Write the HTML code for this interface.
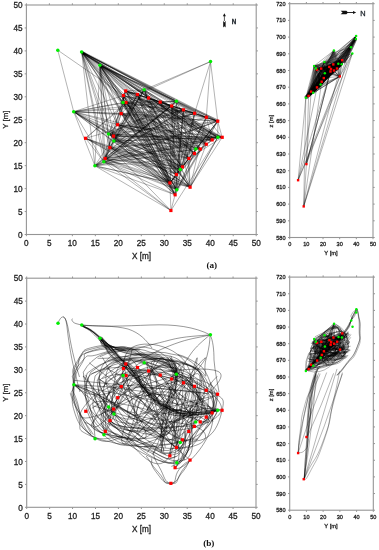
<!DOCTYPE html><html><head><meta charset="utf-8"><title>Trajectories</title><style>html,body{margin:0;padding:0;background:#fff;}svg{display:block;}text{stroke:#222;stroke-width:.28px;}</style></head><body><svg width="379" height="550" viewBox="0 0 379 550" font-family='"Liberation Sans", Arial, sans-serif' font-size="8.2" fill="#222"><rect width="379" height="550" fill="#fff"/><path d="M144.2 89.8L113.8 141.0M144.2 89.8L94.9 165.8M144.2 89.8L217.9 137.3M144.2 89.8L180.3 169.5M144.2 89.8L176.8 189.8M144.2 89.8L125.7 90.9M144.2 89.8L123.4 95.5M144.2 89.8L121.2 113.6M144.2 89.8L113.5 136.1M144.2 89.8L109.9 147.6M144.2 89.8L105.2 158.5M144.2 89.8L222.2 137.3M144.2 89.8L206.3 144.2M144.2 89.8L188.9 158.5M144.2 89.8L176.4 174.5M144.2 89.8L169.9 182.9M144.2 89.8L190.1 187.2M176.4 101.3L123.0 102.5M176.4 101.3L108.5 134.0M176.4 101.3L103.8 161.7M176.4 101.3L94.9 165.8M176.4 101.3L180.3 169.5M176.4 101.3L171.7 106.0M176.4 101.3L217.7 121.2M176.4 101.3L126.0 102.5M176.4 101.3L105.2 158.5M176.4 101.3L200.3 149.0M176.4 101.3L182.5 166.9M176.4 101.3L169.9 182.9M123.0 102.5L195.8 149.0M123.0 102.5L180.3 169.5M123.0 102.5L176.8 189.8M123.0 102.5L125.7 90.9M123.0 102.5L123.4 95.5M123.0 102.5L171.7 106.0M123.0 102.5L194.6 113.3M123.0 102.5L206.3 117.3M123.0 102.5L206.3 144.2M123.0 102.5L200.3 149.0M123.0 102.5L194.4 153.5M123.0 102.5L188.9 158.5M123.0 102.5L182.5 166.9M123.0 102.5L169.9 182.9M123.0 102.5L190.1 187.2M123.0 102.5L175.1 194.8M108.5 134.0L125.7 90.9M108.5 134.0L171.7 106.0M108.5 134.0L183.5 109.8M108.5 134.0L194.6 113.3M108.5 134.0L217.7 121.2M108.5 134.0L126.0 102.5M108.5 134.0L109.9 147.6M108.5 134.0L105.2 158.5M108.5 134.0L222.2 137.3M108.5 134.0L212.2 139.9M108.5 134.0L206.3 144.2M108.5 134.0L200.3 149.0M108.5 134.0L182.5 166.9M108.5 134.0L176.4 174.5M108.5 134.0L169.9 182.9M108.5 134.0L190.1 187.2M108.5 134.0L175.1 194.8M113.8 141.0L217.9 137.3M113.8 141.0L195.8 149.0M113.8 141.0L180.3 169.5M113.8 141.0L176.8 189.8M113.8 141.0L148.6 98.0M113.8 141.0L160.2 102.1M113.8 141.0L194.6 113.3M113.8 141.0L217.7 121.2M113.8 141.0L222.2 137.3M113.8 141.0L194.4 153.5M113.8 141.0L188.9 158.5M103.8 161.7L217.9 137.3M103.8 161.7L180.3 169.5M103.8 161.7L176.8 189.8M103.8 161.7L125.7 90.9M103.8 161.7L137.4 94.5M103.8 161.7L171.7 106.0M103.8 161.7L217.7 121.2M103.8 161.7L212.2 139.9M103.8 161.7L194.4 153.5M103.8 161.7L190.1 187.2M103.8 161.7L175.1 194.8M94.9 165.8L195.8 149.0M94.9 165.8L160.2 102.1M94.9 165.8L171.7 106.0M94.9 165.8L183.5 109.8M94.9 165.8L217.7 121.2M94.9 165.8L222.2 137.3M94.9 165.8L188.9 158.5M94.9 165.8L169.9 182.9M94.9 165.8L190.1 187.2M94.9 165.8L175.1 194.8M217.9 137.3L125.7 90.9M217.9 137.3L123.4 95.5M217.9 137.3L148.6 98.0M217.9 137.3L160.2 102.1M217.9 137.3L117.6 124.7M217.9 137.3L113.5 136.1M217.9 137.3L109.9 147.6M217.9 137.3L105.2 158.5M217.9 137.3L190.1 187.2M195.8 149.0L171.7 106.0M195.8 149.0L126.0 102.5M195.8 149.0L117.6 124.7M195.8 149.0L169.9 182.9M195.8 149.0L175.1 194.8M180.3 169.5L137.4 94.5M180.3 169.5L171.7 106.0M180.3 169.5L206.3 117.3M180.3 169.5L126.0 102.5M180.3 169.5L121.2 113.6M180.3 169.5L109.9 147.6M180.3 169.5L105.2 158.5M180.3 169.5L188.9 158.5M180.3 169.5L169.9 182.9M176.8 189.8L123.4 95.5M176.8 189.8L171.7 106.0M176.8 189.8L183.5 109.8M176.8 189.8L194.6 113.3M176.8 189.8L217.7 121.2M176.8 189.8L126.0 102.5M176.8 189.8L121.2 113.6M176.8 189.8L109.9 147.6M176.8 189.8L105.2 158.5M176.8 189.8L200.3 149.0M176.8 189.8L194.4 153.5M176.8 189.8L176.4 174.5M125.7 90.9L123.4 95.5M125.7 90.9L148.6 98.0M125.7 90.9L171.7 106.0M125.7 90.9L183.5 109.8M125.7 90.9L217.7 121.2M125.7 90.9L113.5 136.1M125.7 90.9L105.2 158.5M125.7 90.9L222.2 137.3M125.7 90.9L212.2 139.9M125.7 90.9L206.3 144.2M125.7 90.9L194.4 153.5M125.7 90.9L182.5 166.9M125.7 90.9L176.4 174.5M125.7 90.9L169.9 182.9M125.7 90.9L190.1 187.2M125.7 90.9L175.1 194.8M123.4 95.5L171.7 106.0M123.4 95.5L194.6 113.3M123.4 95.5L217.7 121.2M123.4 95.5L222.2 137.3M123.4 95.5L194.4 153.5M123.4 95.5L188.9 158.5M123.4 95.5L182.5 166.9M123.4 95.5L176.4 174.5M123.4 95.5L169.9 182.9M123.4 95.5L175.1 194.8M137.4 94.5L160.2 102.1M137.4 94.5L113.5 136.1M137.4 94.5L109.9 147.6M137.4 94.5L206.3 144.2M137.4 94.5L194.4 153.5M137.4 94.5L188.9 158.5M137.4 94.5L182.5 166.9M137.4 94.5L176.4 174.5M137.4 94.5L169.9 182.9M137.4 94.5L175.1 194.8M148.6 98.0L171.7 106.0M148.6 98.0L194.6 113.3M148.6 98.0L217.7 121.2M148.6 98.0L126.0 102.5M148.6 98.0L200.3 149.0M148.6 98.0L194.4 153.5M148.6 98.0L182.5 166.9M148.6 98.0L190.1 187.2M160.2 102.1L200.3 149.0M160.2 102.1L194.4 153.5M160.2 102.1L188.9 158.5M160.2 102.1L182.5 166.9M160.2 102.1L176.4 174.5M171.7 106.0L217.7 121.2M171.7 106.0L105.2 158.5M171.7 106.0L212.2 139.9M171.7 106.0L206.3 144.2M171.7 106.0L200.3 149.0M171.7 106.0L188.9 158.5M171.7 106.0L169.9 182.9M171.7 106.0L190.1 187.2M171.7 106.0L175.1 194.8M183.5 109.8L121.2 113.6M183.5 109.8L117.6 124.7M183.5 109.8L113.5 136.1M183.5 109.8L105.2 158.5M183.5 109.8L212.2 139.9M183.5 109.8L206.3 144.2M183.5 109.8L176.4 174.5M183.5 109.8L190.1 187.2M183.5 109.8L175.1 194.8M194.6 113.3L206.3 117.3M194.6 113.3L126.0 102.5M194.6 113.3L113.5 136.1M194.6 113.3L109.9 147.6M194.6 113.3L188.9 158.5M194.6 113.3L176.4 174.5M194.6 113.3L175.1 194.8M206.3 117.3L113.5 136.1M206.3 117.3L105.2 158.5M206.3 117.3L222.2 137.3M206.3 117.3L212.2 139.9M206.3 117.3L182.5 166.9M206.3 117.3L176.4 174.5M206.3 117.3L190.1 187.2M217.7 121.2L121.2 113.6M217.7 121.2L105.2 158.5M217.7 121.2L188.9 158.5M217.7 121.2L182.5 166.9M217.7 121.2L176.4 174.5M217.7 121.2L169.9 182.9M217.7 121.2L175.1 194.8M126.0 102.5L222.2 137.3M126.0 102.5L190.1 187.2M121.2 113.6L222.2 137.3M121.2 113.6L206.3 144.2M121.2 113.6L200.3 149.0M121.2 113.6L194.4 153.5M121.2 113.6L188.9 158.5M121.2 113.6L169.9 182.9M121.2 113.6L175.1 194.8M117.6 124.7L222.2 137.3M117.6 124.7L212.2 139.9M117.6 124.7L200.3 149.0M117.6 124.7L194.4 153.5M117.6 124.7L176.4 174.5M117.6 124.7L169.9 182.9M117.6 124.7L190.1 187.2M117.6 124.7L175.1 194.8M113.5 136.1L105.2 158.5M113.5 136.1L222.2 137.3M113.5 136.1L212.2 139.9M113.5 136.1L188.9 158.5M113.5 136.1L182.5 166.9M113.5 136.1L169.9 182.9M113.5 136.1L190.1 187.2M113.5 136.1L175.1 194.8M109.9 147.6L212.2 139.9M109.9 147.6L188.9 158.5M109.9 147.6L182.5 166.9M109.9 147.6L176.4 174.5M109.9 147.6L169.9 182.9M109.9 147.6L190.1 187.2M105.2 158.5L206.3 144.2M105.2 158.5L200.3 149.0M105.2 158.5L182.5 166.9M105.2 158.5L169.9 182.9M105.2 158.5L190.1 187.2M222.2 137.3L188.9 158.5M212.2 139.9L182.5 166.9M206.3 144.2L169.9 182.9M206.3 144.2L190.1 187.2M200.3 149.0L169.9 182.9M188.9 158.5L190.1 187.2M176.4 174.5L175.1 194.8M125.7 90.9L137.4 94.5M125.7 90.9L137.4 94.5M137.4 94.5L148.6 98.0M137.4 94.5L148.6 98.0M148.6 98.0L160.2 102.1M148.6 98.0L160.2 102.1M160.2 102.1L171.7 106.0M160.2 102.1L171.7 106.0M171.7 106.0L183.5 109.8M171.7 106.0L183.5 109.8M183.5 109.8L194.6 113.3M183.5 109.8L194.6 113.3M194.6 113.3L206.3 117.3M194.6 113.3L206.3 117.3M206.3 117.3L217.7 121.2M206.3 117.3L217.7 121.2M123.4 95.5L123.0 102.5M123.4 95.5L123.0 102.5M123.0 102.5L121.2 113.6M123.0 102.5L121.2 113.6M121.2 113.6L117.6 124.7M121.2 113.6L117.6 124.7M117.6 124.7L108.5 134.0M117.6 124.7L108.5 134.0M108.5 134.0L113.5 136.1M108.5 134.0L113.5 136.1M113.5 136.1L113.8 141.0M113.5 136.1L113.8 141.0M113.8 141.0L109.9 147.6M113.8 141.0L109.9 147.6M109.9 147.6L105.2 158.5M109.9 147.6L105.2 158.5M105.2 158.5L103.8 161.7M105.2 158.5L103.8 161.7M103.8 161.7L94.9 165.8M103.8 161.7L94.9 165.8M222.2 137.3L217.9 137.3M222.2 137.3L217.9 137.3M217.9 137.3L212.2 139.9M217.9 137.3L212.2 139.9M212.2 139.9L206.3 144.2M212.2 139.9L206.3 144.2M206.3 144.2L200.3 149.0M206.3 144.2L200.3 149.0M200.3 149.0L195.8 149.0M200.3 149.0L195.8 149.0M195.8 149.0L194.4 153.5M195.8 149.0L194.4 153.5M194.4 153.5L188.9 158.5M194.4 153.5L188.9 158.5M188.9 158.5L182.5 166.9M188.9 158.5L182.5 166.9M182.5 166.9L180.3 169.5M182.5 166.9L180.3 169.5M180.3 169.5L176.4 174.5M180.3 169.5L176.4 174.5M176.4 174.5L169.9 182.9M176.4 174.5L169.9 182.9M169.9 182.9L176.8 189.8M169.9 182.9L176.8 189.8M82.2 52.4L194.6 112.1M82.1 51.3L217.6 120.3M82.5 51.9L193.3 112.2M80.7 52.1L213.9 138.1M80.9 51.0L220.4 136.9M100.4 66.2L219.4 120.5M82.5 52.4L210.3 140.6M81.3 51.6L175.1 99.3M81.3 52.8L193.1 115.2M81.3 52.5L219.2 137.0M81.5 51.6L213.9 138.7M82.4 51.0L211.8 141.1M81.4 51.8L195.8 111.5M80.7 52.1L211.7 139.2M81.6 51.9L176.4 101.3M81.6 51.9L123.0 102.5M81.6 51.9L108.5 134.0M81.6 51.9L103.8 161.7M81.6 51.9L94.9 165.8M81.6 51.9L217.9 137.3M81.6 51.9L176.8 189.8M81.6 51.9L123.4 95.5M81.6 51.9L137.4 94.5M81.6 51.9L148.6 98.0M81.6 51.9L206.3 117.3M81.6 51.9L217.7 121.2M81.6 51.9L126.0 102.5M81.6 51.9L117.6 124.7M81.6 51.9L113.5 136.1M81.6 51.9L109.9 147.6M81.6 51.9L105.2 158.5M81.6 51.9L212.2 139.9M81.6 51.9L200.3 149.0M81.6 51.9L194.4 153.5M81.6 51.9L188.9 158.5M81.6 51.9L182.5 166.9M81.6 51.9L176.4 174.5M81.6 51.9L169.9 182.9M81.6 51.9L190.1 187.2M81.6 51.9L175.1 194.8M99.9 65.2L144.2 89.8M99.9 65.2L176.4 101.3M99.9 65.2L123.0 102.5M99.9 65.2L108.5 134.0M99.9 65.2L103.8 161.7M99.9 65.2L94.9 165.8M99.9 65.2L180.3 169.5M99.9 65.2L176.8 189.8M99.9 65.2L125.7 90.9M99.9 65.2L137.4 94.5M99.9 65.2L148.6 98.0M99.9 65.2L194.6 113.3M99.9 65.2L206.3 117.3M99.9 65.2L217.7 121.2M99.9 65.2L126.0 102.5M99.9 65.2L121.2 113.6M99.9 65.2L117.6 124.7M99.9 65.2L113.5 136.1M99.9 65.2L109.9 147.6M99.9 65.2L105.2 158.5M99.9 65.2L212.2 139.9M99.9 65.2L206.3 144.2M99.9 65.2L200.3 149.0M99.9 65.2L194.4 153.5M99.9 65.2L188.9 158.5M99.9 65.2L176.4 174.5M99.9 65.2L169.9 182.9M99.9 65.2L190.1 187.2M99.9 65.2L175.1 194.8M73.7 111.7L176.4 101.3M73.7 111.7L123.0 102.5M73.7 111.7L108.5 134.0M73.7 111.7L103.8 161.7M73.7 111.7L94.9 165.8M73.7 111.7L180.3 169.5M73.7 111.7L176.8 189.8M73.7 111.7L123.4 95.5M73.7 111.7L171.7 106.0M73.7 111.7L206.3 117.3M73.7 111.7L217.7 121.2M73.7 111.7L126.0 102.5M73.7 111.7L121.2 113.6M73.7 111.7L113.5 136.1M73.7 111.7L206.3 144.2M73.7 111.7L200.3 149.0M73.7 111.7L188.9 158.5M73.7 111.7L182.5 166.9M73.7 111.7L176.4 174.5M73.7 111.7L169.9 182.9M73.7 111.7L190.1 187.2M217.7 121.2L217.9 137.3M217.7 121.2L222.2 137.3M190.1 187.2L217.9 137.3M190.1 187.2L222.2 137.3M57.8 50.2L73.7 111.7M57.8 50.2L123.4 95.5M210.5 61.6L144.2 89.8M210.5 61.6L137.4 94.5M210.5 61.6L194.6 113.3M210.5 61.6L206.3 117.3M210.5 61.6L217.7 121.2M85.6 138.3L169.9 182.9M85.6 138.3L180.3 169.5M85.6 138.3L176.4 174.5M85.6 138.3L103.8 161.7M85.6 138.3L176.8 189.8M85.6 138.3L109.9 147.6M85.6 138.3L183.5 109.8M85.6 138.3L137.4 94.5M85.6 138.3L190.1 187.2M85.6 138.3L126.0 102.5M170.9 210.5L94.9 165.8M170.9 210.5L103.8 161.7M170.9 210.5L105.2 158.5M170.9 210.5L109.9 147.6M170.9 210.5L175.1 194.8M170.9 210.5L169.9 182.9M170.9 210.5L217.9 137.3" stroke="#000" stroke-opacity="0.6" stroke-width="0.5" fill="none"/><path d="M177.8 354.5L182.5 355.9L187.1 357.9L191.8 360.4L196.7 363.2L201.5 366.6L205.2 371.2L207.9 376.6L210.1 382.3L211.7 388.3L212.8 394.4L213.2 400.6L213.0 406.8L211.3 412.8L207.8 418.2L203.8 422.8L199.6 426.8L196.3 430.7L193.5 434.5L190.8 438.3L190.0 443.7L188.6 449.1L186.5 454.2L183.9 459.1L180.2 462.6L175.8 464.7L171.4 466.4M176.5 400.7L173.1 398.2L169.2 396.1L164.7 394.5L159.3 394.3L154.4 394.8L150.2 395.3L146.1 395.3L141.0 395.2L135.6 396.4L131.7 399.1L129.6 402.4L128.4 405.6L127.7 408.8L127.6 411.8L128.1 414.7L129.5 417.2L131.5 419.1L133.7 420.6L135.6 422.3L137.7 423.7L140.0 424.8L141.8 426.9L143.9 429.0L146.3 430.8L148.9 432.5L151.9 434.5M204.5 381.1L201.1 373.8L195.6 368.1L188.7 364.4L181.8 361.6L174.8 360.1L167.9 359.5L161.6 358.8L155.3 359.0L149.1 359.9L142.8 360.1L136.4 361.2L129.9 363.5L122.5 365.2L114.9 368.4L107.7 373.4L100.3 379.6L98.6 389.2L99.8 398.7L102.6 407.5L106.4 415.1L111.1 421.5L117.5 426.0L124.5 428.5L130.0 430.9L135.4 432.2L139.8 435.0M117.9 363.7L113.9 364.8L110.0 366.7L106.4 369.3L102.8 372.5L99.4 376.2L97.2 380.8L97.7 386.7L98.9 392.4L101.2 397.9L104.2 403.0L107.5 407.5L111.0 411.3L114.9 414.4L118.8 416.8L122.9 418.4L127.3 419.1L131.6 418.9L135.5 418.1L138.6 417.2L141.4 415.8L143.9 414.0L146.1 411.7L148.0 408.9L149.5 405.4L151.3 400.1L152.0 395.7M188.7 443.6L191.8 436.5L197.2 431.1L203.4 425.3L209.8 418.0L214.0 408.9L213.4 398.7L210.5 388.5L205.7 378.7L198.8 370.2L188.5 365.2L178.6 361.9L169.1 360.6L160.8 358.9L152.8 358.5L144.9 357.8L136.9 357.7L129.0 359.1L120.3 360.4L111.4 363.4L103.2 368.7L95.1 375.9L93.2 386.9L95.3 398.5L99.8 409.2L105.8 418.5L113.4 425.8M168.5 370.8L172.5 371.0L176.5 371.6L180.6 372.6L184.7 373.9L188.7 375.5L192.0 377.8L194.5 380.8L196.5 384.0L198.1 387.4L199.2 390.8L199.9 394.3L200.2 397.8L199.9 401.3L199.2 404.7L198.0 408.0L195.7 411.1L192.5 413.7L189.1 416.0L185.4 417.8L181.5 419.3L178.2 420.6L175.0 421.8L171.9 422.8L169.8 424.7L167.2 426.5L164.2 428.0M185.3 431.6L185.5 436.0L185.8 440.8L185.5 445.5L184.5 450.0L182.9 454.4L180.7 458.5L177.1 460.5L173.2 462.0L168.9 462.8L163.9 460.7L159.0 457.8L154.6 455.1L150.5 452.5L146.6 450.8L142.9 448.9L139.4 446.6L136.1 444.0L133.1 441.1L129.4 439.6L125.5 438.3L121.6 436.5L117.7 434.3L112.8 432.6L107.9 430.2L103.7 427.0L100.7 423.0M108.0 412.0L106.9 409.6L105.9 407.0L105.0 404.3L104.2 401.6L103.7 398.8L103.3 395.9L103.1 393.0L103.4 390.1L103.9 387.3L104.6 384.4L106.3 382.1L108.8 380.3L111.4 378.7L114.0 377.3L116.5 376.0L119.1 374.9L121.7 374.0L124.3 373.4L127.0 373.1L129.6 372.9L132.2 372.9L134.7 373.0L136.9 372.8L139.1 372.7L141.3 372.8L143.5 373.1M174.3 367.7L171.6 367.4L169.0 367.4L166.4 367.5L164.0 367.4L161.6 367.3L159.3 367.3L157.0 367.5L154.8 367.8L152.6 368.3L150.5 368.9L148.4 369.1L146.4 369.3L144.4 369.6L142.5 370.1L140.6 370.7L138.8 371.5L137.1 372.4L135.6 373.4L134.1 374.5L132.5 375.3L131.1 376.3L129.8 377.5L128.7 378.9L127.7 380.4L127.1 382.1L126.6 383.9M102.7 415.1L105.9 419.6L109.5 423.5L114.0 426.3L118.9 428.1L123.8 429.1L127.6 430.4L131.4 431.1L135.2 431.2L138.5 431.9L141.6 433.0L144.9 433.8L148.6 434.2L152.6 435.0L157.5 436.8L163.1 436.9L168.0 434.1L171.1 428.7L173.0 423.1L177.4 419.6L183.1 415.9L189.0 411.1L193.0 405.2L195.3 398.9L196.7 392.5L197.4 386.2L197.2 380.2M80.4 416.7L81.3 419.9L82.5 423.0L84.0 426.0L85.7 428.9L87.7 431.6L89.9 434.1L92.7 436.2L96.0 437.9L99.5 439.3L103.1 440.3L106.7 441.1L110.2 441.8L113.1 442.7L116.1 443.4L119.2 444.0L122.2 444.2L125.2 444.3L128.2 444.1L131.1 444.0L133.3 444.9L135.7 445.6L138.2 446.1L140.7 446.4L143.3 446.6L145.9 446.5L148.5 446.2M145.4 412.1L147.4 409.8L149.3 407.3L152.1 403.1L153.7 399.1L154.9 395.6L155.8 392.4L156.3 389.2L156.6 386.1L156.6 383.1L156.3 380.3L155.7 377.7L155.0 375.2L154.0 372.9L152.8 370.9L151.3 369.1L149.8 367.4L148.0 365.5L146.1 363.9L143.9 362.4L141.6 361.3L139.2 360.4L136.6 359.8L133.9 359.4L131.2 359.4L128.3 359.7L125.2 359.8M102.1 378.6L108.7 376.1L115.1 374.6L121.5 374.2L127.9 374.9L133.9 376.7L139.2 378.8L143.9 381.2L148.2 384.4L152.1 387.7L155.7 391.2L160.1 394.8L163.6 401.0L163.6 408.2L161.3 413.3L161.4 419.7L159.8 425.5L156.6 428.7L153.0 429.2L149.8 429.8L146.5 430.9L143.2 431.3L139.9 431.0L136.6 430.4L132.4 430.8L128.0 430.4L123.5 429.4M140.0 411.2L145.0 412.9L148.2 415.7L151.9 419.1L156.9 423.3L161.8 424.7L165.5 424.1L168.7 423.0L171.7 421.6L175.8 420.8L179.8 419.5L184.7 418.1L189.7 416.0L194.4 413.2L198.8 409.7L201.2 405.5L203.0 400.9L204.0 396.1L204.3 391.2L204.1 386.2L203.1 381.3L201.4 376.6L199.1 372.1L195.3 368.7L191.0 366.1L186.5 364.0L182.1 362.3M111.1 366.4L107.5 367.3L103.9 368.5L100.2 369.9L96.5 371.5L92.8 373.4L89.4 375.6L87.9 379.0L86.7 382.4L85.8 386.0L85.2 389.5L85.2 393.2L85.4 396.9L86.0 400.4L86.7 403.9L87.6 407.4L88.7 410.7L90.1 413.9L91.6 416.9L93.3 419.9L95.1 422.6L97.2 425.2L99.3 427.7L101.6 429.9L104.7 431.6L107.8 432.9L111.0 434.0M99.9 356.8L107.1 353.6L114.4 351.7L121.6 350.9L127.9 349.7L133.8 349.1L139.6 349.3L145.0 350.4L150.0 352.2L154.7 353.2L159.0 354.9L162.9 357.5L166.3 360.8L169.4 364.2L172.1 368.0L174.1 372.5L175.4 377.7L176.1 383.4L175.3 390.3L172.6 398.1L168.1 406.2L159.7 412.1L154.5 418.8L148.2 419.0L143.5 420.3L138.5 422.2L132.8 423.9M116.3 351.7L109.4 352.2L102.9 354.0L97.1 357.1L91.9 361.3L87.2 366.2L83.3 372.2L84.4 380.6L87.0 389.1L91.5 397.4L97.4 405.1L103.9 411.9L111.3 417.7L119.4 422.0L128.8 423.6L136.0 424.8L141.8 426.1L147.1 428.6L153.1 431.3L160.7 435.3L167.5 433.8L171.7 428.8L174.5 423.6L179.2 420.0L185.0 415.8L190.4 410.0L192.4 402.6M111.7 408.9L111.7 410.5L111.8 412.1L112.1 413.7L112.5 415.3L113.0 416.9L113.7 418.5L114.4 420.0L115.3 421.5L116.4 422.9L117.9 424.0L119.4 425.1L121.0 426.0L122.7 426.8L124.4 427.4L125.8 428.3L127.1 429.1L128.4 429.9L129.8 430.6L131.2 431.2L132.6 431.8L134.0 432.2L135.4 432.6L136.6 433.2L137.6 434.2L138.7 435.1L139.8 436.0M70.3 393.3L72.1 399.1L74.5 404.7L77.4 410.1L80.9 415.2L84.8 420.0L89.3 424.5L94.1 428.5L99.5 431.9L106.2 434.0L112.9 435.4L118.7 436.6L123.9 437.8L128.9 438.5L133.7 439.1L137.4 441.5L141.5 443.6L145.9 445.3L150.5 446.9L155.4 449.5L161.1 453.0L167.4 455.7L172.9 454.8L178.2 453.3L181.6 449.2L184.4 444.9L186.4 440.3M169.4 458.8L173.5 457.6L177.4 456.0L180.4 452.7L182.4 448.4L183.7 443.8L184.4 438.9L184.4 433.9L185.2 429.9L186.2 426.2L187.0 422.4L188.5 418.7L189.5 414.5L189.9 409.8L188.1 404.7L185.1 399.7L181.2 395.0L176.6 390.8L170.8 387.7L164.4 386.4L158.5 386.1L153.5 385.7L148.9 385.5L144.1 384.9L139.0 384.8L133.0 384.8L127.0 386.1M104.7 392.5L103.8 399.4L104.2 406.0L105.3 412.2L107.3 417.9L110.0 423.0L114.1 426.9L119.0 429.6L123.5 431.8L127.5 433.9L131.7 435.4L135.5 436.9L138.9 439.6L142.6 441.8L146.8 443.5L151.3 445.0L156.2 447.3L162.1 450.3L168.1 450.6L173.4 448.4L177.2 443.6L179.6 437.9L180.9 431.8L183.1 427.1L185.8 422.8L189.6 418.5L192.9 413.3M148.4 441.7L151.0 443.5L153.9 445.7L157.1 448.1L160.8 450.7L164.9 453.0L168.8 453.4L172.4 452.9L176.0 452.1L178.9 449.8L181.1 446.8L183.0 443.7L184.4 440.4L185.4 436.9L186.1 433.5L188.1 431.3L189.9 428.9L191.5 426.3L193.3 423.9L195.3 421.4L196.9 418.7L198.1 415.7L198.8 412.7L199.1 409.5L197.8 406.2L196.0 403.1L193.8 400.2M205.7 376.5L203.7 373.7L201.6 371.2L199.0 369.1L195.8 367.6L192.6 366.4L189.3 365.4L186.1 364.7L183.0 364.1L179.9 363.7L176.8 363.6L173.7 363.8L170.7 364.2L167.7 364.8L165.0 365.2L162.4 365.7L159.7 366.3L157.2 367.2L154.6 368.2L152.2 369.5L149.8 370.8L147.4 371.6L145.0 372.7L142.6 373.9L140.2 375.4L137.8 377.1L135.1 378.6M213.8 407.2L213.0 403.1L211.7 399.2L209.9 395.5L207.5 392.1L204.7 389.1L201.6 386.4L198.1 384.2L194.2 382.5L190.1 381.2L185.8 380.4L180.6 380.7L175.5 381.5L170.5 382.8L165.7 384.5L161.1 386.8L156.7 389.5L152.8 392.2L149.0 395.0L144.4 397.4L138.8 401.8L137.4 407.5L136.6 411.8L136.9 415.0L137.1 417.7L137.2 420.5L137.6 423.1M201.8 398.7L202.2 401.6L202.3 404.6L202.2 407.5L201.4 410.4L199.6 413.0L197.5 415.5L195.3 417.8L192.7 419.8L190.1 421.5L187.2 423.1L185.1 424.8L182.9 426.4L180.5 427.9L178.8 429.9L177.5 432.3L175.9 434.7L173.8 437.0L171.5 439.3L168.4 440.6L164.9 441.0L161.3 440.9L157.4 438.8L153.9 436.5L150.9 434.9L148.2 433.8L145.5 432.9M134.2 412.7L128.2 411.5L122.4 409.3L116.9 406.2L111.7 402.3L107.0 397.7L103.0 392.3L100.2 386.6L98.3 380.5L99.7 375.6L102.2 371.3L105.3 367.5L108.9 364.2L113.0 361.6L117.7 360.0L122.6 359.2L127.6 359.0L132.1 358.5L136.7 358.6L141.2 359.4L145.6 360.9L149.7 363.0L153.6 364.4L157.2 366.3L160.6 368.7L163.6 371.6L166.4 374.3M173.6 419.5L179.4 415.5L186.0 410.2L189.9 403.5L191.8 396.4L192.6 389.3L192.3 382.5L190.9 376.2L187.4 371.6L183.5 367.8L179.4 364.7L175.0 362.4L170.5 361.0L166.1 359.7L161.7 358.7L157.1 358.5L152.5 359.0L147.9 359.5L143.1 359.9L138.3 361.0L133.4 362.9L128.4 365.1L122.6 367.2L116.9 370.4L111.5 374.9L106.0 380.3L103.7 387.9M121.3 377.6L116.8 382.5L113.7 389.0L115.1 397.3L118.9 405.2L123.8 412.0L130.0 417.1L136.8 419.7L142.0 421.9L146.2 426.1L151.4 430.3L158.1 436.2L165.6 439.6L172.4 439.7L177.5 437.4L181.6 434.3L185.5 431.3L190.9 429.2L196.1 426.4L202.3 423.3L208.0 419.3L212.8 414.3L215.8 408.3L216.3 401.8L215.6 395.2L213.5 388.7L210.4 382.3M137.1 421.1L136.6 419.5L136.2 417.7L135.5 416.2L134.8 414.5L134.4 412.5L134.5 410.1L134.8 407.6L135.3 404.8L136.1 401.8L137.8 398.8L141.3 397.1L144.6 396.2L147.2 395.5L149.5 394.9L151.7 394.1L154.1 393.4L156.6 392.7L159.4 392.1L162.3 391.9L165.4 391.9L168.6 392.3L171.1 393.4L173.6 394.7L175.9 396.4L178.0 398.2L180.0 400.3M199.2 419.8L203.5 415.1L207.2 409.7L208.1 403.8L208.4 397.8L207.6 391.9L206.3 386.1L204.3 380.5L201.5 375.3L198.0 370.6L192.8 367.4L187.4 364.9L182.2 362.8L176.9 361.4L171.6 360.6L166.7 359.8L161.9 358.8L157.0 358.4L152.2 358.4L147.4 358.1L142.4 357.4L137.3 357.2L132.0 357.6L126.6 358.4L120.4 358.4L113.9 359.1L107.5 360.7M157.2 368.9L152.2 367.1L147.2 365.0L141.9 362.9L136.5 361.5L131.0 360.9L125.1 360.4L118.7 360.0L112.1 360.6L105.8 362.3L99.6 365.1L93.3 368.7L87.2 373.2L85.1 380.1L84.4 387.6L85.3 395.2L87.4 402.7L90.1 409.7L93.5 416.2L97.6 422.2L102.1 427.4L108.0 431.2L114.5 433.7L120.0 435.8L124.7 437.8L129.4 439.1L133.6 440.5M161.3 435.3L169.3 429.8L174.3 422.1L183.1 416.9L192.9 409.8L198.0 400.7L200.7 391.4L201.5 382.3L200.5 373.7L196.8 366.8L191.2 361.8L185.2 357.9L178.5 355.3L171.5 354.1L164.8 352.6L157.7 352.2L150.6 353.1L143.2 352.9L135.4 353.7L127.5 355.8L118.5 357.5L108.9 360.5L99.8 365.7L90.7 372.3L86.7 382.1L86.6 392.5L89.1 402.3M176.3 456.4L171.9 457.9L167.3 458.7L162.1 456.6L157.5 454.1L153.4 452.3L149.6 450.5L146.1 449.7L142.7 448.5L139.5 447.2L136.4 445.6L133.6 443.8L130.9 442.1L127.4 441.7L123.8 441.0L120.3 439.9L116.9 438.5L113.3 437.0L108.9 435.8L104.5 434.0L100.3 431.8L97.0 428.7L94.2 425.1L91.7 421.2L89.5 417.0L87.7 412.6L86.2 407.9M143.8 446.9L149.5 447.9L155.8 450.1L163.3 453.4L170.7 452.8L176.9 449.0L180.5 441.9L182.5 434.5L185.0 428.6L188.3 423.3L193.0 418.1L196.6 411.5L196.8 403.7L194.5 395.9L190.6 388.4L185.0 381.6L176.4 377.6L168.1 375.2L160.4 373.8L153.2 372.4L146.1 370.8L138.4 369.1L130.2 368.3L120.6 367.2L110.9 367.9L101.1 370.3L91.3 373.8M132.0 349.7C129.0 372.9 94.0 403.6 122.6 422.3C151.2 440.9 222.5 427.6 221.5 408.0C220.4 388.5 146.6 353.6 119.3 361.2C91.9 368.7 111.0 406.7 136.1 431.7C161.2 456.7 178.1 436.8 197.8 439.3M181.5 382.1C164.9 399.3 130.2 449.6 122.8 443.2C115.4 436.7 146.1 383.0 155.3 359.3M174.4 378.2C148.9 389.1 95.1 422.3 82.4 417.6C69.7 413.0 115.9 377.0 128.8 361.4M131.3 358.5C122.3 375.5 84.2 426.4 94.8 427.1C105.5 427.8 153.9 355.5 174.4 361.4C194.8 367.3 171.6 447.9 177.4 450.9C183.2 453.9 207.7 375.8 197.7 373.6C187.6 371.4 151.9 425.1 136.8 442.1M165.8 454.6C143.3 439.2 79.1 415.8 91.6 403.8C104.1 391.9 185.6 426.5 207.2 415.1C228.8 403.6 197.9 368.0 163.0 365.9C128.1 363.9 113.4 395.5 91.9 408.3M84.6 422.3C106.2 428.5 107.7 456.3 150.8 441.3C194.0 426.4 195.6 397.4 217.2 376.3M128.4 417.0C153.2 410.9 209.2 397.0 214.9 395.7C220.7 394.4 157.9 422.0 148.4 412.4C138.9 402.8 196.4 377.8 181.8 362.3C167.2 346.8 121.8 359.5 97.6 358.3M180.3 363.9C167.5 384.7 130.7 433.7 138.4 431.9C146.0 430.0 201.3 358.9 205.3 357.8C209.4 356.7 168.0 406.7 151.6 428.3M109.4 422.6C126.5 433.4 151.0 478.3 167.4 459.2C183.8 440.0 176.8 363.5 165.0 357.6C153.3 351.6 131.6 428.5 127.4 438.9C123.2 449.4 144.0 406.5 150.9 392.9M161.9 432.4C175.9 417.1 235.0 379.5 218.0 371.4C201.0 363.2 104.2 376.9 93.7 399.6C83.3 422.3 163.0 471.4 176.4 462.2C189.7 453.0 149.9 366.3 147.2 362.7C144.4 359.2 160.8 426.6 165.4 447.8M182.3 424.0C186.5 405.0 200.5 349.9 196.6 358.7C192.8 367.5 177.2 426.4 169.2 454.2M147.5 452.4C159.1 431.4 195.1 402.1 190.4 374.3C185.6 346.5 143.0 337.3 129.8 349.1C116.6 361.0 121.3 402.4 141.3 418.4C161.3 434.4 187.4 411.2 204.3 408.6M188.6 391.0C171.4 405.0 158.0 444.6 128.5 440.0C98.9 435.3 97.8 393.5 85.5 374.9M93.2 405.9C113.9 411.2 171.6 433.5 173.1 426.6C174.6 419.7 100.4 380.9 99.2 379.1C97.9 377.4 154.3 424.4 168.3 419.7C182.2 415.0 141.7 363.8 153.1 361.0C164.5 358.3 197.0 396.7 212.3 409.2M74.3 380.4C105.8 383.5 193.1 391.1 206.0 393.3C218.9 395.5 127.7 382.8 128.2 389.7C128.7 396.5 213.3 427.0 208.0 421.9C202.8 416.8 130.6 381.1 106.3 368.3M95.4 395.7C110.0 410.7 107.7 432.0 141.8 443.3C175.9 454.7 214.7 445.8 203.7 431.7C192.7 417.7 127.0 425.3 106.9 398.6C86.8 371.9 109.1 347.3 140.0 347.0C170.8 346.7 184.3 381.7 204.7 397.7M134.7 413.8C132.8 397.8 116.7 351.9 128.2 357.0C139.6 362.1 162.2 410.8 175.5 431.8M102.5 357.5C116.5 383.6 151.6 431.6 145.5 437.7C139.5 443.9 75.4 369.1 84.0 376.5C92.6 383.8 136.9 452.8 172.0 460.3C207.0 467.9 185.4 419.4 191.9 399.6M211.6 408.7C196.1 399.0 158.2 357.7 151.2 371.0C144.3 384.2 176.1 437.3 184.6 460.2M127.3 434.6C138.6 421.1 179.6 385.9 170.2 383.4C160.8 380.9 92.3 413.0 91.4 425.1C90.6 437.2 167.6 445.9 167.0 429.5C166.4 413.1 109.7 380.3 89.3 362.8M125.8 364.0C141.7 378.5 189.0 424.8 194.3 426.4C199.6 428.1 168.2 372.4 148.6 371.0C129.0 369.7 99.1 408.7 110.0 420.6C121.0 432.4 178.7 430.7 195.7 421.9C212.8 413.2 189.5 375.0 183.5 382.8C177.5 390.7 173.0 438.8 169.9 455.8M176.4 447.4C172.4 429.4 176.7 381.8 160.2 375.1C143.7 368.5 101.5 407.8 110.0 420.6C118.5 433.3 173.4 425.0 194.3 426.4M206.2 417.2C199.3 428.3 178.9 464.5 175.1 467.7C171.2 470.8 195.7 454.6 188.8 431.4C182.0 408.2 160.8 366.7 144.2 362.9C127.7 359.0 115.4 412.9 113.9 414.0C112.4 415.0 132.2 377.8 137.5 367.5M103.9 434.6C108.9 420.8 98.7 385.1 121.3 386.6C143.9 388.1 153.4 433.0 182.5 439.8C211.5 446.6 218.6 425.7 222.1 410.3C225.6 394.9 222.9 398.3 194.5 386.3C166.1 374.3 144.0 373.7 123.5 368.5M148.6 371.0C163.4 380.8 206.0 390.4 212.1 412.9C218.2 435.3 181.7 474.6 175.1 467.7C168.4 460.7 192.2 406.1 183.5 382.8C174.7 359.6 155.9 355.5 137.5 367.5C119.0 379.6 111.7 419.0 103.9 434.6M212.1 412.9C193.0 404.6 149.8 371.4 126.1 375.5C102.4 379.7 100.3 432.4 105.3 431.4C110.3 430.4 123.7 379.3 148.6 371.0C173.6 362.8 215.0 393.3 217.6 394.2C220.2 395.1 173.0 379.4 160.2 375.1M182.5 439.8C170.4 426.8 120.6 386.4 123.1 375.5C125.5 364.7 183.7 371.8 194.5 386.3C205.3 400.9 187.9 451.2 176.4 447.4C164.8 443.6 145.3 383.7 137.5 367.5M110.0 420.6C113.4 408.4 111.5 358.2 125.8 364.0C140.1 369.7 156.6 440.9 176.4 447.4C196.2 453.9 218.6 408.9 217.6 394.2C216.6 379.5 175.4 373.0 171.7 379.0C167.9 385.0 190.3 418.7 200.2 421.9C210.1 425.2 213.8 400.2 217.6 394.2M175.1 467.7C187.4 451.1 216.3 417.5 217.8 410.3C219.3 403.0 212.7 436.3 180.3 442.4C147.9 448.5 120.9 450.7 105.3 431.4C89.7 412.2 120.1 391.6 126.1 375.5M194.5 386.3C190.0 405.7 197.4 456.9 176.8 462.7C156.2 468.5 113.7 431.5 113.6 409.1C113.5 386.6 160.4 383.2 176.4 374.3M73.9 384.7Q127.9 403.3 190.0 460.1M73.9 384.7Q139.3 399.4 222.1 410.3M73.9 384.7Q116.8 399.3 176.4 447.4M73.9 384.7Q92.5 395.1 95.1 438.7M73.9 384.7Q119.0 426.2 180.3 442.4M73.9 384.7Q142.9 386.3 222.1 410.3M73.9 384.7Q124.9 410.6 182.5 439.8M73.9 384.7Q94.4 404.4 121.3 386.6M100.2 339.1C106.3 346.0 108.1 348.2 118.5 359.9C128.9 371.6 122.5 364.4 131.4 374.3C140.3 384.1 136.9 380.5 145.2 389.5C153.4 398.5 148.3 394.1 156.1 401.3C164.0 408.6 160.1 407.3 168.7 411.2C177.3 415.1 171.1 412.2 182.0 413.2C192.9 414.1 189.6 415.1 201.5 414.1C213.3 413.1 212.2 411.4 217.6 410.1M98.9 337.3C104.7 343.4 104.3 345.0 116.5 355.5C128.6 366.1 126.6 359.3 135.3 368.9C144.0 378.5 136.1 373.6 142.7 384.3C149.2 395.0 148.0 394.1 155.0 400.9C162.1 407.8 155.2 400.7 163.8 404.9C172.3 409.2 175.1 410.7 180.7 413.6M82.2 325.2C87.8 329.2 88.0 327.4 99.1 337.2C110.2 347.0 103.9 343.5 115.5 354.7C127.0 365.9 124.2 359.2 133.8 370.7C143.4 382.2 137.7 380.3 144.3 389.2C151.0 398.1 145.7 390.1 153.9 397.3C162.0 404.5 160.0 405.6 168.7 410.9C177.4 416.2 168.4 413.0 179.9 413.3C191.4 413.7 190.8 413.2 203.2 411.9C215.6 410.5 212.5 410.2 217.2 409.3M81.5 325.1C87.7 329.2 87.1 326.5 100.1 337.5C113.1 348.5 110.4 347.7 120.4 358.1C130.5 368.5 122.4 359.2 130.2 368.6C138.0 377.9 135.2 375.5 143.8 386.1C152.4 396.7 148.4 394.0 156.1 400.5C163.7 407.0 159.2 401.8 166.7 405.6C174.2 409.4 174.6 409.7 178.6 411.8M101.0 336.5C107.1 344.2 108.2 348.6 119.2 359.4C130.3 370.3 126.5 359.4 134.3 369.1C142.0 378.8 136.7 378.6 142.4 388.5C148.0 398.4 143.4 391.3 151.2 398.9C159.0 406.4 155.6 405.6 165.8 411.2C175.9 416.7 170.7 414.6 181.6 415.5C192.6 416.4 186.6 415.5 198.6 414.0C210.6 412.6 211.3 412.1 217.6 411.1M100.1 337.1C106.5 343.3 109.1 345.0 119.3 355.7C129.5 366.3 122.9 358.7 130.7 369.0C138.4 379.4 134.4 377.1 142.6 386.8C150.9 396.4 147.3 391.9 155.5 398.0C163.7 404.2 159.1 400.3 167.3 405.2C175.6 410.1 168.3 409.7 180.3 412.7C192.2 415.8 190.7 415.5 203.3 414.3C215.9 413.1 213.2 410.9 218.1 409.2M81.2 325.2C87.5 329.0 86.8 325.3 99.9 336.6C113.0 347.9 110.4 347.0 120.4 359.1C130.5 371.2 122.6 363.8 129.9 372.8C137.3 381.8 134.4 377.9 142.5 386.1C150.6 394.4 146.8 390.5 154.3 397.6C161.7 404.6 155.6 402.7 164.9 407.2C174.2 411.8 171.2 409.2 182.2 411.3C193.2 413.4 186.1 413.7 197.9 413.6C209.7 413.6 210.9 412.0 217.4 411.2M81.4 325.7C87.2 329.5 87.7 326.2 98.6 337.0C109.5 347.9 102.5 347.3 114.2 358.2C125.8 369.2 123.7 359.4 133.5 369.8C143.2 380.1 136.3 380.6 143.3 389.4C150.4 398.1 147.7 390.7 154.6 396.1C161.6 401.5 156.2 400.2 164.1 405.6C172.0 411.0 167.4 409.2 178.4 412.3C189.3 415.5 183.9 415.6 197.0 414.9C210.1 414.3 210.8 411.8 217.6 410.3M82.5 324.8C88.1 329.2 89.1 327.5 99.5 338.0C109.8 348.5 102.3 343.8 113.6 356.3C124.9 368.8 122.6 364.8 133.4 375.4C144.2 386.0 138.9 381.4 146.0 388.1C153.1 394.9 148.5 389.4 154.8 395.6C161.0 401.9 155.7 402.0 164.8 406.9C173.9 411.8 176.3 409.1 182.1 410.2M82.3 325.9C88.3 329.8 88.7 328.2 100.2 337.8C111.8 347.3 105.9 341.9 117.0 354.5C128.1 367.0 124.5 364.1 133.5 375.4C142.5 386.7 136.5 381.4 144.1 388.5C151.7 395.7 148.0 390.1 156.3 396.9C164.7 403.7 161.6 404.5 169.1 408.9C176.6 413.3 169.2 408.9 178.9 410.1C188.6 411.3 185.1 412.6 198.2 412.5C211.3 412.5 211.5 410.8 218.2 409.9M101.7 337.0C107.7 343.8 109.6 345.5 119.8 357.3C130.1 369.1 124.9 361.6 132.4 372.4C139.9 383.3 134.0 380.3 142.4 389.9C150.7 399.5 149.3 396.1 157.4 401.2C165.6 406.4 158.1 401.9 166.7 405.4C175.3 408.8 171.2 409.9 183.3 411.5C195.3 413.1 191.2 410.4 202.8 410.2C214.3 410.0 212.9 410.7 217.9 411.0M98.9 340.0C106.0 346.0 109.5 347.0 120.1 358.1C130.7 369.2 122.1 363.8 130.7 373.2C139.2 382.6 137.7 376.9 145.7 386.2C153.7 395.5 149.0 394.6 154.6 401.1C160.3 407.7 153.9 402.8 162.6 405.9C171.3 409.0 168.6 408.3 180.8 410.5C193.0 412.7 187.1 412.5 199.2 412.5C211.3 412.4 211.1 411.0 217.1 410.3M81.4 325.3C87.1 329.8 87.4 327.3 98.4 338.9C109.5 350.5 103.1 349.3 114.5 360.2C125.9 371.2 123.1 362.6 132.7 371.8C142.3 381.0 135.8 378.2 143.4 387.9C150.9 397.5 147.2 394.1 155.3 400.8C163.5 407.5 158.0 403.0 167.8 407.9C177.5 412.8 172.9 414.2 184.5 415.4C196.0 416.5 191.4 413.0 202.5 411.4C213.5 409.7 212.6 410.7 217.6 410.4M101.5 337.7C105.6 344.6 102.8 346.6 113.9 358.6C125.0 370.6 124.5 363.6 134.8 373.6C145.1 383.7 138.7 380.1 144.7 388.8C150.6 397.4 146.5 394.1 152.6 399.7C158.7 405.2 153.7 400.9 163.0 405.4C172.3 409.8 168.5 411.9 180.6 413.0C192.7 414.2 186.8 409.8 199.3 408.9C211.8 408.0 211.9 409.8 218.2 410.3M167.7 356.7C170.4 362.9 173.2 363.0 175.6 375.1C177.9 387.2 176.9 380.8 174.8 393.0C172.7 405.1 172.5 399.1 169.2 411.5C165.9 424.0 167.6 416.7 164.8 430.3C162.1 444.0 162.3 445.0 161.0 452.4M170.8 355.9C172.8 361.8 176.4 360.7 176.9 373.7C177.4 386.6 176.5 382.4 172.2 394.7C167.9 407.0 167.5 398.4 164.0 410.5C160.5 422.5 165.5 416.3 161.8 430.9C158.0 445.6 155.8 446.6 152.8 454.4M170.3 357.7C172.2 363.3 176.4 364.0 176.1 374.5C175.8 385.0 171.5 377.1 169.3 389.2C167.0 401.3 171.5 395.7 169.4 410.8C167.3 426.0 164.9 420.9 163.0 434.6C161.1 448.3 163.5 446.1 163.7 451.8M166.6 357.1C170.1 363.1 175.9 362.7 177.1 375.0C178.3 387.4 173.8 381.8 170.2 394.0C166.5 406.3 169.2 398.4 166.1 411.8C163.1 425.3 161.8 421.5 161.0 434.3C160.3 447.1 163.0 444.9 163.9 450.2M169.2 356.5C171.8 362.2 176.9 361.2 177.1 373.5C177.2 385.8 173.4 379.7 169.6 393.4C165.9 407.0 167.4 401.1 165.9 414.4C164.4 427.7 169.3 420.4 165.2 433.3C161.1 446.2 157.5 446.5 153.6 453.2M171.0 358.0C172.5 363.3 175.7 362.1 175.6 373.8C175.6 385.6 174.3 381.2 170.8 393.3C167.4 405.3 168.3 396.8 165.2 410.1C162.0 423.3 162.6 419.3 161.4 433.0C160.2 446.7 161.5 445.2 161.5 451.2M100.3 339.0C103.7 341.1 101.4 340.5 110.5 345.4C119.7 350.2 115.3 350.5 127.8 353.6C140.3 356.7 135.7 352.7 148.0 354.7C160.3 356.7 154.2 353.5 164.8 359.5C175.5 365.5 174.9 368.3 179.9 372.6M99.6 338.8C102.2 341.1 97.2 342.2 107.5 345.7C117.8 349.3 117.8 345.9 130.5 349.5C143.3 353.0 135.1 351.3 145.7 356.3C156.2 361.3 150.7 359.7 162.1 364.4C173.5 369.0 174.0 368.3 179.9 370.2M99.5 338.4C103.3 341.0 100.7 341.4 110.9 346.2C121.0 350.9 117.9 349.4 129.9 352.7C142.0 356.0 135.1 352.6 147.1 356.0C159.1 359.5 156.1 356.5 166.1 363.1C176.1 369.7 173.4 371.5 177.1 375.7M99.9 338.8C103.9 342.1 102.6 344.7 111.7 348.7C120.9 352.8 116.2 348.4 127.4 350.9C138.6 353.5 133.1 353.7 145.3 356.5C157.5 359.2 153.2 353.3 164.0 359.2C174.7 365.1 173.1 369.3 177.6 374.3M100.0 338.2C103.2 340.6 99.4 342.2 109.7 345.6C119.9 349.0 117.5 344.8 130.8 348.4C144.1 352.0 138.3 351.3 149.4 356.4C160.6 361.5 155.6 358.9 164.3 363.7C172.9 368.6 165.6 362.4 175.4 370.9C185.3 379.4 182.7 372.6 193.9 389.3C205.0 405.9 203.9 410.2 208.9 420.7M99.6 338.5C102.3 341.9 98.4 345.2 107.5 348.9C116.7 352.6 114.6 346.8 127.0 349.5C139.5 352.3 132.0 352.4 145.0 357.1C157.9 361.9 156.2 358.6 166.0 363.7C175.8 368.8 171.6 369.5 174.4 372.5M100.5 339.2C103.0 341.7 97.9 343.7 107.9 346.7C117.9 349.8 117.9 344.4 130.5 348.2C143.0 352.1 135.0 354.0 145.4 358.3C155.9 362.7 151.7 356.6 161.8 361.4C172.0 366.1 165.6 363.3 175.8 372.5C186.0 381.8 180.1 372.9 192.5 389.2C204.9 405.5 206.1 410.8 213.0 421.6M99.6 337.9C103.1 340.4 100.6 340.2 110.3 345.5C120.0 350.7 116.8 350.4 128.8 353.6C140.7 356.8 133.5 352.0 146.2 355.0C158.9 358.0 157.5 356.9 166.9 362.7C176.2 368.5 164.6 363.5 174.2 372.4C183.9 381.3 184.3 373.1 195.9 389.4C207.5 405.6 204.7 410.6 209.1 421.2M58.0 323.4C59.5 319 61.5 316.6 63.3 316.9C65.5 317.4 66.2 321 67 327C69 345 72 362 75.5 374C77 380 78 386 80 392M63.3 316.9C66 318 67.5 324 69 333C72 352 76 366 79.5 377M72.4 318.6C71.2 320 72.5 322.5 76 323.6L81.6 325.1M81.6 325.1C95 326 115 325.5 128 329C140 333 146 340 152 348M81.6 325.1C100 327 125 326 150 325C175 324 195 327 210 334.8M132.2 351.1C119.7 351.0 111.5 346.6 94.7 350.7C77.9 354.9 88.5 352.5 81.7 363.6C75.0 374.7 76.7 370.9 74.3 384.0C72.0 397.2 68.4 386.1 74.8 402.9C81.1 419.8 87.2 424.1 93.4 434.7M125.4 347.6C116.6 349.8 113.4 349.5 98.9 354.2C84.4 358.8 90.3 351.6 81.9 361.5C73.5 371.3 75.2 368.9 73.7 383.7C72.3 398.5 71.7 389.0 77.5 405.8C83.4 422.6 86.6 424.7 91.2 434.1M140.2 349.7C124.5 349.9 114.5 343.5 93.1 350.3C71.8 357.2 82.7 358.6 76.2 370.2C69.7 381.9 73.2 370.6 73.7 385.4C74.2 400.1 72.6 397.9 77.8 414.5C83.0 431.2 74.4 427.9 89.2 435.3C104.0 442.7 111.2 436.2 122.2 436.7M125.8 350.2C115.6 349.0 111.0 342.8 95.2 346.7C79.3 350.6 85.5 349.5 78.2 361.9C70.8 374.3 73.6 371.0 73.2 383.9C72.7 396.8 70.7 383.2 76.8 400.5C82.9 417.8 75.1 423.5 91.5 435.7C107.9 447.9 114.5 436.6 126.1 437.1M124.2 349.8C114.9 349.1 112.2 343.6 96.3 347.8C80.5 352.0 84.0 350.1 76.6 362.4C69.3 374.6 74.8 367.3 74.2 384.5C73.7 401.7 69.6 397.0 75.1 413.9C80.6 430.7 85.6 428.1 90.8 435.2M210 334.8C200 336 185 336 170 340C155 344 145 346 132 350M210 334.8C204 340 196 346 190 355C185 362 180 370 176 378M210 334.8C210 341 209 348 207 356C205 362 204 368 206 376M210 334.8C213 340 214 350 214 360C215 372 217 380 219 392M210 334.8C203 337 192 338 180 342C165 347 155 352 140 360M146.2 456.0C150.3 461.5 150.3 463.4 158.5 472.5C166.8 481.6 162.5 484.7 170.9 483.3C179.3 482.0 177.4 476.1 183.8 468.4C190.2 460.6 188.0 462.8 190.0 460.1M151.4 458.4C152.8 462.7 149.2 463.2 155.7 471.5C162.2 479.8 162.4 482.6 170.9 483.3C179.4 484.1 174.9 481.4 181.3 473.6C187.7 465.9 187.1 464.6 190.0 460.1M152.9 452.9C155.0 457.5 153.1 456.6 159.1 466.7C165.0 476.9 164.1 482.5 170.9 483.3C177.7 484.1 173.0 476.9 179.4 469.1C185.8 461.4 186.5 463.1 190.0 460.1" stroke="#000" stroke-opacity="0.8" stroke-width="0.5" fill="none"/><path d="M305.5 98.5L312.0 94.0L320.0 87.5L327.0 79.0L333.0 73.0L338.0 69.5L343.0 64.0L342.5 59.5L338.0 60.0L332.0 63.0L326.0 66.5L321.0 70.0L316.0 76.0L312.0 84.0L308.0 92.0Z" fill="#000" fill-opacity="0.75"/><path d="M314.5 66.1L324.0 62.0L321.0 70.0L316.0 76.0L310.0 90.0L306.0 97.0Z" fill="#000" fill-opacity="0.2"/><path d="M333.9 51.0L326.0 64.0L340.0 61.5Z" fill="#000" fill-opacity="0.5"/><path d="M337.0 59.5L349.0 46.0L355.5 37.0L357.0 39.8L352.5 49.5L345.0 63.5Z" fill="#000" fill-opacity="0.6"/><path d="M324.4 62.1L314.1 65.9M324.4 62.1L315.8 68.6M324.4 62.1L338.3 63.8M324.4 62.1L324.8 73.3M324.4 62.1L313.2 92.7M324.4 62.1L305.8 97.8M324.4 62.1L321.2 68.6M324.4 62.1L333.3 64.4M324.4 62.1L342.1 60.2M324.4 62.1L331.0 69.0M324.4 62.1L334.0 70.5M324.4 62.1L337.0 68.5M324.4 62.1L330.5 71.5M324.4 62.1L339.8 76.4M324.4 62.1L323.8 78.1M324.4 62.1L317.0 87.4M324.4 62.1L311.1 91.6M324.4 62.1L308.6 95.9M314.1 65.9L315.8 68.6M314.1 65.9L338.3 63.8M314.1 65.9L341.7 64.2M314.1 65.9L324.8 73.3M314.1 65.9L320.6 84.5M314.1 65.9L313.2 92.7M314.1 65.9L305.8 97.8M314.1 65.9L321.2 68.6M314.1 65.9L329.3 66.9M314.1 65.9L342.1 60.2M314.1 65.9L331.0 69.0M314.1 65.9L334.0 70.5M314.1 65.9L330.5 71.5M314.1 65.9L323.8 78.1M314.1 65.9L321.7 81.7M314.1 65.9L317.0 87.4M314.1 65.9L311.1 91.6M314.1 65.9L308.6 95.9M315.8 68.6L338.3 63.8M315.8 68.6L341.7 64.2M315.8 68.6L324.8 73.3M315.8 68.6L320.6 84.5M315.8 68.6L313.2 92.7M315.8 68.6L305.8 97.8M315.8 68.6L317.0 69.7M315.8 68.6L321.2 68.6M315.8 68.6L329.3 66.9M315.8 68.6L333.3 64.4M315.8 68.6L342.1 60.2M315.8 68.6L331.0 69.0M315.8 68.6L334.0 70.5M315.8 68.6L330.5 71.5M315.8 68.6L339.8 76.4M315.8 68.6L323.8 78.1M315.8 68.6L321.7 81.7M315.8 68.6L317.0 87.4M315.8 68.6L311.1 91.6M315.8 68.6L308.6 95.9M338.3 63.8L341.7 64.2M338.3 63.8L324.8 73.3M338.3 63.8L320.6 84.5M338.3 63.8L305.8 97.8M338.3 63.8L317.0 69.7M338.3 63.8L333.3 64.4M338.3 63.8L342.1 60.2M338.3 63.8L331.0 69.0M338.3 63.8L334.0 70.5M338.3 63.8L337.0 68.5M338.3 63.8L330.5 71.5M338.3 63.8L339.8 76.4M338.3 63.8L323.8 78.1M338.3 63.8L321.7 81.7M338.3 63.8L311.1 91.6M338.3 63.8L308.6 95.9M341.7 64.2L324.8 73.3M341.7 64.2L313.2 92.7M341.7 64.2L317.0 69.7M341.7 64.2L321.2 68.6M341.7 64.2L329.3 66.9M341.7 64.2L333.3 64.4M341.7 64.2L342.1 60.2M341.7 64.2L331.0 69.0M341.7 64.2L334.0 70.5M341.7 64.2L330.5 71.5M341.7 64.2L339.8 76.4M341.7 64.2L321.7 81.7M341.7 64.2L317.0 87.4M341.7 64.2L311.1 91.6M341.7 64.2L308.6 95.9M324.8 73.3L320.6 84.5M324.8 73.3L313.2 92.7M324.8 73.3L305.8 97.8M324.8 73.3L317.0 69.7M324.8 73.3L329.3 66.9M324.8 73.3L333.3 64.4M324.8 73.3L342.1 60.2M324.8 73.3L331.0 69.0M324.8 73.3L334.0 70.5M324.8 73.3L330.5 71.5M324.8 73.3L339.8 76.4M324.8 73.3L323.8 78.1M324.8 73.3L321.7 81.7M324.8 73.3L317.0 87.4M324.8 73.3L311.1 91.6M324.8 73.3L308.6 95.9M320.6 84.5L313.2 92.7M320.6 84.5L317.0 69.7M320.6 84.5L329.3 66.9M320.6 84.5L333.3 64.4M320.6 84.5L342.1 60.2M320.6 84.5L331.0 69.0M320.6 84.5L334.0 70.5M320.6 84.5L337.0 68.5M320.6 84.5L330.5 71.5M320.6 84.5L339.8 76.4M320.6 84.5L317.0 87.4M320.6 84.5L311.1 91.6M320.6 84.5L308.6 95.9M313.2 92.7L305.8 97.8M313.2 92.7L317.0 69.7M313.2 92.7L321.2 68.6M313.2 92.7L329.3 66.9M313.2 92.7L333.3 64.4M313.2 92.7L342.1 60.2M313.2 92.7L331.0 69.0M313.2 92.7L334.0 70.5M313.2 92.7L337.0 68.5M313.2 92.7L330.5 71.5M313.2 92.7L339.8 76.4M313.2 92.7L323.8 78.1M313.2 92.7L321.7 81.7M313.2 92.7L317.0 87.4M313.2 92.7L311.1 91.6M313.2 92.7L308.6 95.9M305.8 97.8L317.0 69.7M305.8 97.8L329.3 66.9M305.8 97.8L333.3 64.4M305.8 97.8L342.1 60.2M305.8 97.8L331.0 69.0M305.8 97.8L334.0 70.5M305.8 97.8L337.0 68.5M305.8 97.8L330.5 71.5M305.8 97.8L339.8 76.4M305.8 97.8L323.8 78.1M305.8 97.8L321.7 81.7M305.8 97.8L317.0 87.4M305.8 97.8L311.1 91.6M305.8 97.8L308.6 95.9M317.0 69.7L321.2 68.6M317.0 69.7L329.3 66.9M317.0 69.7L333.3 64.4M317.0 69.7L342.1 60.2M317.0 69.7L331.0 69.0M317.0 69.7L330.5 71.5M317.0 69.7L339.8 76.4M317.0 69.7L323.8 78.1M317.0 69.7L321.7 81.7M317.0 69.7L311.1 91.6M317.0 69.7L308.6 95.9M321.2 68.6L329.3 66.9M321.2 68.6L333.3 64.4M321.2 68.6L342.1 60.2M321.2 68.6L331.0 69.0M321.2 68.6L334.0 70.5M321.2 68.6L337.0 68.5M321.2 68.6L330.5 71.5M321.2 68.6L339.8 76.4M321.2 68.6L323.8 78.1M321.2 68.6L321.7 81.7M321.2 68.6L317.0 87.4M321.2 68.6L311.1 91.6M321.2 68.6L308.6 95.9M329.3 66.9L333.3 64.4M329.3 66.9L342.1 60.2M329.3 66.9L331.0 69.0M329.3 66.9L334.0 70.5M329.3 66.9L337.0 68.5M329.3 66.9L330.5 71.5M329.3 66.9L339.8 76.4M329.3 66.9L323.8 78.1M329.3 66.9L321.7 81.7M329.3 66.9L317.0 87.4M329.3 66.9L311.1 91.6M329.3 66.9L308.6 95.9M333.3 64.4L342.1 60.2M333.3 64.4L331.0 69.0M333.3 64.4L334.0 70.5M333.3 64.4L337.0 68.5M333.3 64.4L330.5 71.5M333.3 64.4L339.8 76.4M333.3 64.4L323.8 78.1M333.3 64.4L317.0 87.4M333.3 64.4L311.1 91.6M333.3 64.4L308.6 95.9M342.1 60.2L331.0 69.0M342.1 60.2L334.0 70.5M342.1 60.2L337.0 68.5M342.1 60.2L330.5 71.5M342.1 60.2L339.8 76.4M342.1 60.2L323.8 78.1M342.1 60.2L321.7 81.7M342.1 60.2L317.0 87.4M342.1 60.2L311.1 91.6M342.1 60.2L308.6 95.9M331.0 69.0L337.0 68.5M331.0 69.0L330.5 71.5M331.0 69.0L339.8 76.4M331.0 69.0L323.8 78.1M331.0 69.0L321.7 81.7M331.0 69.0L317.0 87.4M331.0 69.0L311.1 91.6M331.0 69.0L308.6 95.9M334.0 70.5L339.8 76.4M334.0 70.5L323.8 78.1M334.0 70.5L321.7 81.7M334.0 70.5L317.0 87.4M334.0 70.5L311.1 91.6M334.0 70.5L308.6 95.9M337.0 68.5L330.5 71.5M337.0 68.5L339.8 76.4M337.0 68.5L323.8 78.1M337.0 68.5L321.7 81.7M337.0 68.5L317.0 87.4M337.0 68.5L311.1 91.6M337.0 68.5L308.6 95.9M330.5 71.5L339.8 76.4M330.5 71.5L321.7 81.7M330.5 71.5L308.6 95.9M339.8 76.4L323.8 78.1M339.8 76.4L317.0 87.4M339.8 76.4L311.1 91.6M339.8 76.4L308.6 95.9M323.8 78.1L317.0 87.4M323.8 78.1L311.1 91.6M323.8 78.1L308.6 95.9M321.7 81.7L317.0 87.4M321.7 81.7L311.1 91.6M321.7 81.7L308.6 95.9M317.0 87.4L311.1 91.6M317.0 87.4L308.6 95.9M311.1 91.6L308.6 95.9M333.9 50.5L324.4 62.1M333.9 50.5L334.0 70.5M333.9 50.5L330.5 71.5M333.9 50.5L317.0 87.4M333.9 50.5L305.8 97.8M333.9 50.5L313.2 92.7M333.9 50.5L311.1 91.6M333.9 50.5L314.1 65.9M333.9 50.5L339.8 76.4M333.9 50.5L321.7 81.7M333.9 50.5L341.7 64.2M333.9 50.5L315.8 68.6M333.9 50.5L329.3 66.9M333.9 50.5L342.1 60.2M356.1 35.9L317.0 69.7M356.1 35.9L334.0 70.5M356.1 35.9L323.8 78.1M356.1 35.9L311.1 91.6M356.1 35.9L337.0 68.5M356.1 35.9L338.3 63.8M356.1 35.9L324.4 62.1M355.9 39.1L341.7 64.2M355.9 39.1L317.0 69.7M355.9 39.1L311.1 91.6M355.9 39.1L330.5 71.5M355.9 39.1L321.2 68.6M355.9 39.1L317.0 87.4M355.9 39.1L337.0 68.5M351.0 47.3L324.4 62.1M351.0 47.3L331.0 69.0M351.0 47.3L329.3 66.9M351.0 47.3L317.0 87.4M352.3 53.6L308.6 95.9M352.3 53.6L339.8 76.4M352.3 53.6L341.7 64.2M352.3 53.6L314.1 65.9M298.1 180.2L305.8 97.8M298.1 180.2L317.0 87.4M298.1 180.2L339.8 76.4M298.1 180.2L331.0 69.0M306.4 164.1L330.5 71.5M306.4 164.1L308.6 95.9M306.4 164.1L331.0 69.0M306.4 164.1L330.5 71.5M303.7 206.4L311.1 91.6M303.7 206.4L305.8 97.8M303.7 206.4L321.7 81.7M303.7 206.4L342.1 60.2M351.0 47.3L303.7 206.4M352.3 53.6L303.7 206.4M352.3 53.6L298.1 180.2M351.0 47.3L306.4 164.1M338.6 64.4L343.1 64.6M339.4 64.8L324.7 73.8M339.0 65.0L320.5 85.3M337.7 62.3L314.0 92.9M338.7 63.7L305.2 96.8M338.9 65.0L330.7 67.0M338.1 63.9L331.9 65.1M337.6 62.6L340.8 61.5M337.8 63.6L329.7 68.7M338.3 62.7L332.9 70.8M339.3 62.6L338.2 70.0M338.9 63.6L329.5 70.6M339.2 62.5L322.9 78.3M338.8 64.5L321.0 81.9M337.2 63.5L317.4 85.9M337.1 64.4L311.1 91.2M338.8 65.0L307.5 95.3M341.9 64.7L324.2 74.6M341.8 63.4L319.3 83.7M342.7 63.6L314.6 93.6M342.8 64.1L305.5 96.7M340.3 63.7L329.5 65.5M342.8 64.2L333.2 64.1M341.6 65.6L340.9 60.3M341.8 63.9L332.0 70.3M341.5 65.1L334.7 69.3M342.9 64.2L336.1 69.1M341.3 65.2L329.9 72.8M342.3 65.1L323.4 78.8M341.3 63.6L322.1 83.1M341.3 62.8L318.5 86.5M340.7 62.9L309.7 90.7M340.8 64.2L309.9 96.4M324.3 73.1L320.0 85.8M326.1 72.8L313.1 91.8M325.3 72.0L306.9 98.9M324.7 73.5L328.1 67.9M325.6 73.8L331.9 65.6M324.3 74.1L341.5 58.9M323.4 73.2L332.0 68.0M325.7 72.8L333.9 69.7M326.3 71.9L337.6 68.7M325.3 73.7L331.7 72.1M325.3 72.4L323.4 76.8M326.3 73.2L322.5 80.7M323.9 71.9L317.3 88.1M324.1 73.2L311.0 92.1M323.8 71.9L309.6 96.9M320.8 85.8L313.8 91.9M321.5 83.3L305.7 98.3M321.0 84.5L330.1 65.5M321.6 84.3L333.7 65.5M322.0 83.6L342.7 60.6M319.7 83.7L332.3 69.9M319.4 86.0L333.0 69.2M321.3 84.9L336.8 68.1M320.4 85.3L330.6 70.4M319.1 85.3L324.4 79.3M322.1 84.7L320.6 81.6M321.4 83.8L316.7 86.3M320.7 84.4L311.7 92.5M322.0 85.0L307.9 95.9M312.4 93.3L306.7 98.9M314.4 91.4L330.1 66.5M314.0 91.2L332.7 65.7M312.1 91.3L341.0 60.8M314.0 91.3L329.6 68.8M312.0 93.6L334.2 70.0M312.6 91.6L337.0 68.0M311.8 92.8L331.2 70.1M312.1 94.1L324.8 77.9M312.5 94.1L320.2 81.8M312.1 91.8L316.6 86.4M313.6 91.7L312.5 90.9M313.5 93.1L307.5 96.7M305.6 97.6L328.8 66.7M305.0 98.1L332.3 63.0M306.3 96.8L342.0 60.2M304.3 96.7L332.1 69.6M304.9 96.3L335.2 69.7M306.4 97.4L336.9 67.6M306.8 97.2L330.5 72.3M306.7 97.4L324.7 79.0M306.3 99.0L320.4 81.7M305.3 96.7L316.2 87.0M304.6 97.5L311.9 90.9M307.1 98.7L309.4 95.8M329.2 67.0L332.1 63.5M329.9 65.7L342.4 60.6M330.2 65.5L331.5 69.3M329.3 66.9L334.1 71.1M329.1 67.8L337.2 69.8M329.5 65.6L329.4 71.3M330.7 65.5L324.6 77.2M328.7 65.5L322.5 82.0M330.4 68.2L316.7 88.8M327.8 68.2L310.3 90.2M328.1 68.3L308.0 95.5M334.2 65.7L342.4 60.4M333.2 63.2L329.9 68.5M334.2 64.2L335.4 71.0M332.9 65.2L337.1 67.6M333.8 63.9L330.0 72.5M334.5 65.0L325.3 77.3M332.1 63.8L322.6 82.6M332.0 65.8L315.7 87.1M332.4 64.9L311.3 92.0M333.7 64.5L308.3 95.1M342.0 60.5L330.2 68.8M340.9 61.4L333.5 70.3M341.0 59.6L337.2 68.7M341.9 59.7L329.3 72.4M341.6 58.9L325.2 77.0M342.2 58.9L320.8 81.6M341.8 61.4L318.2 87.7M343.0 61.2L309.6 92.1M340.9 59.7L308.2 96.7M331.2 68.8L333.5 71.3M330.0 70.2L337.1 68.7M332.1 70.1L330.1 72.4M330.1 68.5L322.8 79.3M332.5 69.8L320.9 83.0M330.9 67.5L318.4 88.8M329.9 67.5L310.7 91.1M331.7 69.0L309.9 96.5M332.5 71.4L338.5 69.3M333.1 70.0L329.4 72.7M334.4 71.3L322.6 76.9M333.7 71.8L320.4 81.5M333.2 72.0L316.3 88.1M332.9 71.9L311.3 91.4M333.0 71.5L309.7 95.1M336.9 67.4L329.3 72.5M335.9 69.4L322.4 78.3M338.4 69.6L320.4 83.1M336.1 69.4L315.5 87.5M338.4 68.8L312.1 91.5M335.6 67.5L309.4 95.9M331.6 72.8L324.3 78.5M330.8 70.6L321.5 82.4M331.4 72.5L316.8 88.6M329.0 72.4L310.1 91.1M329.9 70.6L309.6 94.6M323.4 77.8L320.8 80.6M323.4 76.6L317.4 88.2M324.6 76.8L311.7 90.2M323.5 77.0L309.0 96.6M321.7 81.2L316.9 87.3M320.4 81.3L311.5 90.1M322.6 80.5L307.5 96.4M316.5 86.5L310.5 92.8M318.2 87.6L308.0 94.7M310.8 91.0L309.8 96.0M355.9 39.1L340.3 57.1M351.0 47.3L336.6 55.8M356.1 35.9L338.6 56.7M351.0 47.3L342.8 59.0M351.0 47.3L334.2 52.4M355.9 39.1L344.0 61.2M355.9 39.1L344.4 63.3M355.9 39.1L341.5 59.6M356.1 35.9L338.3 58.1M355.9 39.1L338.5 56.4M356.1 35.9L336.3 54.6M356.1 35.9L343.7 60.3M355.9 39.1L342.6 60.9M355.9 39.1L336.8 53.9M356.1 35.9L343.6 62.4M356.1 35.9L343.9 60.4" stroke="#000" stroke-opacity="0.65" stroke-width="0.45" fill="none"/><path d="M305.6 371.6L312.1 367.1L320.1 360.6L327.1 352.2L333.2 346.2L338.2 342.7L343.2 337.2L342.7 332.7L338.2 333.2L332.2 336.2L326.1 339.7L321.1 343.2L316.1 349.2L312.1 357.2L308.1 365.1Z" fill="#000" fill-opacity="0.35"/><path d="M320.2 348.0L320.6 349.9L320.9 351.7L320.9 353.8L320.6 356.6L322.1 358.8L325.9 357.7L328.3 357.2L330.2 356.2L331.8 355.8L333.2 355.2L334.6 354.4L336.2 353.5L337.6 352.2L338.8 350.5L339.6 348.5L340.1 346.2L340.1 343.7L339.3 341.2L337.8 339.3L335.2 338.8M338.4 356.6L337.3 358.1L336.2 359.7L334.9 361.0L333.2 362.1L331.4 362.8L329.3 364.0L326.9 365.1L324.1 365.7L320.8 366.2L316.4 367.1L309.8 368.4L313.9 360.5L314.7 356.8L315.6 353.7L316.9 351.2L317.4 348.9L318.4 346.8L320.0 344.9L322.5 343.6L325.5 343.3M333.3 347.7L332.3 349.4L330.9 350.7L329.7 351.7L328.0 353.1L325.1 354.8L324.0 354.3L323.4 353.6L322.4 353.1L321.6 352.4L321.0 351.6L320.5 350.8L319.8 349.9L319.2 348.8L318.8 347.6L318.7 346.4L318.8 345.2L319.2 343.9L319.9 342.9L321.1 342.1L322.4 341.6M343.8 348.9L344.4 351.3L344.5 353.6L344.1 355.6L343.4 357.4L342.3 358.9L340.9 360.1L339.4 361.0L338.0 361.9L336.3 362.6L334.4 362.8L332.4 362.7L330.4 362.4L328.3 362.7L325.8 362.5L322.8 362.2L318.3 362.4L319.0 357.1L319.8 353.4L320.7 350.6L320.9 348.1M328.9 356.3L328.0 356.1L327.1 355.7L325.6 355.6L324.2 354.8L325.6 351.9L326.2 350.3L326.1 348.8L326.6 347.2L327.5 346.1L328.3 345.1L329.1 343.7L330.1 342.4L331.2 341.3L332.4 340.1L333.8 339.0L335.4 338.1L337.0 337.3L338.7 336.8L340.4 336.4L341.7 336.8M327.3 350.8L327.4 351.7L328.1 352.5L329.2 352.4L329.9 352.4L330.5 352.4L331.0 352.6L331.6 352.7L332.1 352.8L332.6 352.9L333.3 353.0L333.9 353.0L334.6 353.0L335.2 352.9L335.9 352.8L336.5 352.6L337.2 352.4L337.8 352.2L338.4 351.8L339.1 351.5L339.6 351.1M334.3 351.1L334.1 351.0L333.8 350.8L333.5 350.6L333.3 350.4L333.1 350.1L333.0 349.7L332.9 349.2L332.8 348.6L332.7 347.9L332.5 347.2L332.2 346.6L332.0 346.2L331.8 345.8L331.7 345.4L331.6 344.9L331.7 344.5L331.7 344.0L331.8 343.6L332.0 343.1L332.2 342.7M336.7 348.4L337.3 347.6L337.8 346.9L338.2 346.0L338.5 345.2L338.7 344.3L338.9 343.5L338.9 342.6L338.9 341.8L338.8 340.9L338.6 340.1L338.3 339.4L337.6 339.1L336.9 338.8L336.2 338.7L335.5 338.6L334.7 338.6L334.0 338.7L333.2 338.8L332.5 339.1L331.7 339.3M332.2 357.7L333.4 356.4L334.1 354.8L334.9 353.2L335.5 351.1L335.6 348.0L334.6 344.1L331.6 342.8L329.3 341.9L327.2 341.4L325.0 340.6L322.5 340.0L320.1 340.0L317.8 340.6L316.0 341.8L315.0 343.7L314.6 345.8L314.6 348.1L315.2 350.4L315.5 352.8L315.4 355.5M346.7 347.6L347.4 344.2L347.4 340.6L346.7 337.1L345.2 333.8L342.6 331.9L339.2 331.7L336.1 332.2L333.2 333.4L330.8 334.6L328.6 336.3L326.9 338.5L325.3 340.5L323.6 342.3L322.0 344.8L322.0 348.3L322.2 351.6L321.2 355.9L322.4 359.8L325.8 360.0L328.0 360.6M331.2 355.3L333.4 355.7L335.5 355.8L337.9 355.7L340.2 355.2L342.3 354.1L344.2 352.6L345.8 350.6L346.9 348.2L347.7 345.4L348.0 342.3L347.5 339.0L346.3 335.8L344.3 332.7L340.6 331.9L336.9 332.0L333.6 332.9L330.9 333.7L328.5 334.9L326.6 336.6L325.1 338.2M321.0 357.9L322.7 354.5L322.5 353.0L322.7 351.6L322.8 350.5L322.7 349.5L322.7 348.4L323.0 347.5L323.5 346.6L324.4 346.0L325.5 345.7L326.8 345.7L328.0 345.9L329.1 346.1L330.3 346.2L331.9 346.3L333.3 347.5L333.8 349.1L334.0 350.4L334.1 351.4L333.9 352.3M333.4 354.9L335.2 354.3L337.1 353.4L339.0 352.3L340.8 350.8L342.4 349.1L343.8 347.2L345.0 345.1L345.9 342.9L346.5 340.7L346.7 338.4L346.5 336.3L345.9 334.3L345.0 332.4L343.3 331.3L341.1 331.1L338.9 331.2L336.6 331.6L334.4 332.5L332.3 333.3L330.4 334.3M343.2 332.9L344.4 335.4L344.7 338.4L344.5 341.4L343.4 344.5L341.7 347.4L339.7 349.9L337.3 351.9L334.7 353.3L332.4 354.2L330.2 355.0L327.6 356.4L323.4 358.0L320.7 356.6L320.6 353.8L320.4 351.7L319.7 349.6L319.2 347.2L319.2 344.6L320.3 342.2L322.1 340.4M340.5 342.0L340.5 345.5L339.6 348.7L338.3 351.3L336.6 353.3L334.8 354.8L333.1 356.1L331.3 357.2L329.3 358.6L326.6 360.1L323.1 361.6L318.2 363.3L314.2 362.4L315.5 357.9L314.8 355.4L314.7 353.0L314.4 350.7L313.6 348.4L313.4 346.0L313.6 343.6L314.2 341.1M335.1 360.4L336.0 360.2L336.9 360.0L337.8 359.7L338.6 359.3L339.6 359.0L340.5 358.7L341.3 358.2L341.9 357.7L342.5 357.0L342.9 356.3L343.2 355.6L343.4 354.8L343.4 354.0L343.3 353.1L343.0 352.3L342.6 351.5L342.0 350.8L341.2 350.1L340.4 349.4L339.4 348.9M339.2 353.3L340.1 352.8L340.9 352.2L341.7 351.4L342.3 350.5L342.8 349.6L343.1 348.5L343.4 347.4L343.5 346.2L343.4 345.0L343.1 343.7L342.7 342.6L341.9 341.5L341.1 340.5L340.0 339.6L338.8 339.0L337.1 339.2L335.5 339.6L334.0 340.2L332.7 341.0L331.6 342.0M334.7 354.8L334.1 355.7L333.5 356.5L332.7 357.3L331.9 357.9L331.1 358.5L330.2 359.2L329.2 360.1L328.0 361.0L326.7 361.7L325.3 362.3L323.8 362.7L321.7 363.7L319.3 364.6L316.8 365.2L312.8 366.7L311.9 364.9L313.5 361.4L314.3 359.1L314.0 357.6L313.8 356.2M322.3 351.7L321.7 352.7L321.2 353.9L320.9 355.1L320.0 356.8L318.3 359.6L318.5 361.3L320.8 360.9L322.3 360.9L323.8 360.7L325.1 360.6L326.2 360.8L327.3 360.8L328.3 360.7L329.3 360.5L330.2 360.3L331.0 360.1L331.9 360.2L332.8 360.2L333.6 360.2L334.5 360.1M331.1 340.4L329.3 340.1L327.7 340.2L326.1 340.4L324.3 340.2L322.4 340.3L320.6 340.9L318.7 341.7L317.3 343.2L316.5 345.1L316.0 347.0L315.7 349.1L315.8 351.1L315.0 353.3L314.3 355.8L313.9 358.5L312.2 362.5L309.1 368.9L314.3 367.8L317.7 367.6L320.7 366.9M317.5 341.7C326.2 346.7 339.0 353.6 338.4 353.8C337.8 353.9 317.5 350.6 316.0 342.2C314.5 333.9 327.0 337.3 334.8 333.7M330.7 354.4C329.6 346.5 322.4 334.1 327.6 333.4C332.9 332.8 347.5 345.5 344.6 352.7C341.8 359.9 320.8 354.8 320.1 352.6C319.4 350.5 334.2 349.1 342.8 346.9M345.9 353.7C337.7 349.6 328.2 338.1 318.6 340.2C309.0 342.3 309.0 354.6 313.9 360.7C318.8 366.8 333.9 364.6 334.8 360.5C335.8 356.4 317.7 353.8 317.0 347.1C316.3 340.3 327.9 340.7 332.5 338.0M345.3 347.7C339.1 350.6 323.8 357.4 324.8 357.2C325.8 357.1 347.3 353.0 348.6 347.2C350.0 341.4 335.1 334.8 329.3 338.1C323.6 341.5 325.3 356.3 329.7 358.3C334.1 360.4 339.5 349.0 343.8 344.9M316.1 358.0C326.5 350.1 337.4 339.1 340.3 339.7C343.3 340.2 330.4 350.8 323.0 359.3M346.5 333.9C339.2 342.2 336.3 355.0 327.1 356.3C317.9 357.6 325.1 338.2 321.8 337.4C318.6 336.5 315.0 354.9 318.4 354.0C321.9 353.0 322.6 335.8 331.1 334.8C339.6 333.8 337.4 345.2 341.2 351.3M328.7 340.7C324.8 344.7 312.0 354.7 316.6 353.2C321.2 351.6 342.4 332.3 343.0 335.9C343.6 339.5 328.2 362.1 318.6 364.3C309.0 366.4 308.7 352.8 313.4 342.5C318.0 332.3 326.6 335.8 333.0 332.6M329.1 347.9C329.6 342.7 328.5 329.4 330.5 332.2C332.5 335.0 336.9 354.1 335.1 356.4C333.2 358.8 328.3 344.9 324.9 339.2M326.8 343.3C333.7 347.8 345.7 347.7 344.1 354.7C342.4 361.6 327.8 370.0 322.7 360.8C317.7 351.6 331.9 330.7 331.4 331.6C330.9 332.6 325.5 350.5 321.6 363.1M332.9 363.4C330.7 356.0 320.8 349.9 326.7 342.3C332.6 334.6 347.6 341.1 349.6 341.7C351.6 342.3 338.4 343.2 332.3 343.9M328.2 337.8C330.6 342.8 337.9 352.1 336.2 354.4C334.4 356.7 324.5 342.2 322.3 345.3C320.2 348.4 329.7 362.8 329.0 364.8C328.4 366.8 319.6 360.7 320.2 351.9C320.8 343.1 327.7 340.6 331.0 335.7M346.2 347.4C332.7 344.8 318.8 344.4 314.3 341.3C309.9 338.1 334.5 339.3 335.7 340.0C337.0 340.7 317.7 346.3 317.3 342.9C316.8 339.5 327.3 336.6 334.6 331.9M345.7 353.3C340.2 347.7 340.5 338.9 329.9 337.4C319.3 335.8 315.7 340.4 315.5 348.9C315.2 357.3 324.4 357.1 329.2 361.6M344.3 349.8C336.5 345.8 320.6 339.6 320.6 337.6C320.5 335.5 341.9 336.4 344.1 343.5C346.3 350.7 327.6 354.7 327.2 359.5C326.9 364.3 337.9 358.6 343.1 358.2M326.1 334.7C332.4 343.1 342.2 355.9 342.3 356.3C342.4 356.8 325.2 336.1 326.3 335.9C327.3 335.7 349.6 343.5 345.0 355.9C340.4 368.3 326.3 363.2 314.5 367.8M314.4 348.5C322.5 352.3 333.4 355.9 335.2 358.3C337.0 360.7 315.7 355.8 319.1 354.6C322.5 353.4 340.2 361.3 343.8 355.2C347.5 349.0 334.4 345.1 328.4 338.7M319.7 353.2C329.8 350.1 341.2 350.3 343.4 346.0C345.6 341.7 325.3 340.7 324.9 343.1C324.4 345.5 346.7 343.1 342.3 351.5C337.9 359.9 311.9 364.7 314.6 362.7C317.4 360.7 334.2 353.6 348.8 346.9M338.1 351.5C329.2 350.0 313.3 344.3 313.0 347.1C312.8 349.9 325.8 363.0 337.4 359.4C349.0 355.8 351.5 339.7 345.8 336.9C340.0 334.1 323.3 344.7 321.1 351.5C319.0 358.3 333.1 354.4 339.7 356.0M324.2 350.8C330.7 352.9 344.9 354.9 342.0 356.6C339.1 358.2 319.9 362.9 316.2 355.3C312.4 347.7 329.1 332.2 331.6 335.7C334.2 339.1 326.3 354.2 323.2 364.8M326.6 366.1C325.6 360.0 319.6 351.4 323.6 347.4C327.7 343.4 341.0 352.2 339.2 353.6C337.4 355.1 316.5 353.5 318.2 352.0C319.8 350.4 335.8 349.9 344.2 348.8M307.6 361.3Q331.5 366.6 346.5 332.9M314.1 340.3Q334.1 350.4 347.4 352.0M312.8 348.3Q332.8 346.5 350.3 334.3M310.5 348.1Q330.6 348.5 349.4 349.8M313.2 346.0Q326.6 350.6 348.3 348.9M310.3 348.3Q328.6 355.5 349.3 351.0M309.0 354.1Q333.1 355.6 349.1 333.9M310.1 350.3Q329.3 356.5 346.1 352.8M310.8 343.3Q332.6 351.3 350.7 346.2M310.1 356.9Q327.6 362.5 348.3 331.2M310.1 351.4Q333.0 353.1 349.1 336.6M313.0 340.8Q330.1 358.4 345.0 352.7M308.8 359.4Q330.7 359.4 349.6 342.3M311.5 342.3Q330.3 340.3 348.5 333.9M314.3 340.2Q327.8 340.2 348.9 333.6M311.5 347.1Q327.7 352.4 346.8 346.1M306.9 365.9Q331.6 372.3 349.3 349.3M312.6 345.9Q334.7 346.4 349.6 350.1M309.5 361.2Q325.8 369.2 346.0 353.7M312.7 342.2Q326.4 355.8 348.3 352.6M312.0 342.5Q332.3 349.5 349.3 343.4M308.1 358.4Q325.8 365.1 348.3 355.4M312.2 341.8Q324.6 342.4 346.7 333.1M312.2 348.2Q324.2 344.9 346.1 337.4M309.6 360.0Q330.9 365.2 351.0 334.5M310.0 354.2Q325.2 362.1 345.9 357.8M309.4 354.6Q325.7 352.6 348.9 332.7M311.9 343.5Q325.5 340.8 348.3 336.0M312.2 342.0Q329.0 356.7 345.7 357.1M309.4 353.7Q327.2 353.8 347.1 352.2M308.0 370.9Q331.1 378.0 347.0 340.5M312.1 350.3Q333.0 358.3 347.6 356.0M309.7 359.6Q330.5 360.3 346.1 347.3M306.4 369.1Q322.0 371.5 347.1 357.0M308.2 370.6Q329.7 371.1 348.1 332.4M312.6 343.4Q330.9 355.4 345.1 355.9M307.4 366.9Q325.5 368.4 347.8 332.3M308.2 357.1Q330.9 359.0 350.6 350.2M309.4 355.0Q332.3 365.0 350.8 337.3M308.0 358.5Q325.6 368.0 349.3 342.4M333.9 323.6L342.9 350.3M333.9 323.6L324.9 344.6M333.9 323.6L328.3 350.3M333.9 323.6L344.4 336.1M333.9 323.6L334.6 340.3M333.9 323.6L333.9 338.2M333.9 323.6L323.8 346.6M333.9 323.6L330.0 341.3M333.9 323.6L327.6 348.1M333.9 323.6L320.1 336.0M324.5 335.3Q328.8 340.8 324.9 346.5M324.5 335.3Q311.2 347.7 313.3 365.8M324.5 335.3Q324.2 339.2 321.3 341.8M324.5 335.3Q334.3 342.4 342.3 333.4M324.5 335.3Q329.7 337.0 331.1 342.2M324.5 335.3Q338.5 335.7 340.0 349.6M324.5 335.3Q325.5 353.5 311.2 364.7M314.2 339.1Q326.1 334.9 338.5 337.0M314.2 339.1Q320.9 340.9 324.9 346.5M314.2 339.1Q310.6 350.8 320.7 357.7M314.2 339.1Q316.4 340.5 317.1 342.9M314.2 339.1Q312.6 349.6 321.8 354.9M314.2 339.1Q323.6 353.2 311.2 364.7M315.9 341.8Q322.5 340.1 324.9 346.5M315.9 341.8Q316.0 342.9 317.1 342.9M315.9 341.8Q326.6 352.2 337.2 341.7M315.9 341.8Q323.2 346.4 321.8 354.9M315.9 341.8Q324.3 350.7 317.1 360.5M338.5 337.0Q337.7 361.7 313.3 365.8M338.5 337.0Q329.2 345.3 317.1 342.9M338.5 337.0Q342.1 337.1 342.3 333.4M338.5 337.0Q337.1 340.9 334.2 343.7M338.5 337.0Q339.7 339.9 337.2 341.7M338.5 337.0Q334.9 347.9 323.9 351.3M338.5 337.0Q329.6 355.6 311.2 364.7M338.5 337.0Q308.9 339.4 308.7 369.0M341.9 337.4Q334.3 350.7 320.7 357.7M341.9 337.4Q335.6 337.8 331.1 342.2M341.9 337.4Q345.1 344.2 340.0 349.6M341.9 337.4Q320.0 338.8 317.1 360.5M341.9 337.4Q326.8 351.4 311.2 364.7M341.9 337.4Q324.1 352.0 308.7 369.0M324.9 346.5Q325.8 366.8 305.9 370.9M324.9 346.5Q325.6 338.6 333.5 337.6M324.9 346.5Q332.5 338.5 342.3 333.4M324.9 346.5Q328.3 344.8 331.1 342.2M324.9 346.5Q329.8 345.9 334.2 343.7M324.9 346.5Q328.6 348.3 330.6 344.7M324.9 346.5Q332.5 348.0 340.0 349.6M320.7 357.7Q332.2 346.1 342.3 333.4M320.7 357.7Q329.4 350.1 337.2 341.7M320.7 357.7Q333.8 361.9 340.0 349.6M320.7 357.7Q322.0 356.6 321.8 354.9M320.7 357.7Q317.8 357.7 317.1 360.5M320.7 357.7Q318.7 367.6 308.7 369.0M313.3 365.8Q318.6 358.6 323.9 351.3M313.3 365.8Q312.3 365.1 311.2 364.7M313.3 365.8Q310.4 366.5 308.7 369.0M305.9 370.9Q303.5 351.0 321.3 341.8M305.9 370.9Q305.5 342.5 333.5 337.6M305.9 370.9Q320.3 369.3 321.8 354.9M305.9 370.9Q309.6 363.7 317.1 360.5M317.1 342.9Q313.9 351.1 321.8 354.9M317.1 342.9Q305.8 351.6 311.2 364.7M321.3 341.8Q331.4 336.7 342.3 333.4M321.3 341.8Q326.3 341.0 331.1 342.2M321.3 341.8Q327.6 343.7 334.2 343.7M321.3 341.8Q325.8 343.9 330.6 344.7M321.3 341.8Q329.4 348.6 340.0 349.6M321.3 341.8Q325.3 345.8 323.9 351.3M321.3 341.8Q324.9 348.2 321.8 354.9M329.4 340.1Q334.2 333.5 342.3 333.4M329.4 340.1Q330.0 354.4 317.1 360.5M333.5 337.6Q320.7 353.0 308.7 369.0M342.3 333.4Q340.5 342.6 331.1 342.2M331.1 342.2Q334.1 341.3 337.2 341.7M331.1 342.2Q330.3 343.3 330.6 344.7M331.1 342.2Q332.5 349.5 340.0 349.6M331.1 342.2Q316.4 345.5 317.1 360.5M334.2 343.7Q324.0 344.9 321.8 354.9M337.2 341.7Q333.1 341.4 330.6 344.7M337.2 341.7Q340.5 345.0 340.0 349.6M337.2 341.7Q334.3 351.7 323.9 351.3M337.2 341.7Q329.7 362.4 308.7 369.0M330.6 344.7Q328.5 349.2 323.9 351.3M330.6 344.7Q326.4 349.9 321.8 354.9M330.6 344.7Q309.1 347.3 308.7 369.0M340.0 349.6Q324.6 346.8 317.1 360.5M323.9 351.3Q322.0 352.6 321.8 354.9M323.9 351.3Q318.8 359.2 311.2 364.7M321.8 354.9Q320.0 358.2 317.1 360.5M317.1 360.5Q311.8 363.7 308.7 369.0M311.2 364.7Q309.2 366.4 308.7 369.0M314.9 343.5Q324.0 333.3 334.9 326.9Q340.7 328.7 344.6 338.4M317.0 339.9Q324.5 328.4 335.9 327.9Q341.9 323.7 341.9 338.9M320.4 342.0Q323.3 328.4 333.8 326.5Q341.3 326.6 338.9 335.8M318.0 337.2Q321.3 333.6 336.0 326.0Q340.1 325.2 338.4 337.4M313.1 339.1Q321.3 335.3 335.3 327.7Q339.9 327.3 347.9 338.4M315.3 344.4Q321.3 334.7 336.1 324.9Q342.8 326.9 345.4 334.3M315.2 345.3Q326.7 333.7 335.6 326.6Q343.0 327.4 342.9 339.2M314.0 344.4Q323.1 333.5 334.0 323.8Q340.3 324.4 345.0 337.6M314.9 336.8Q326.0 331.8 333.8 325.9Q342.1 327.9 339.7 340.8M316.8 341.5Q324.6 330.0 332.0 327.5Q342.4 328.1 345.6 341.7M306.6 370.1C309.7 366.2 309.0 365.5 316.1 358.4C323.2 351.3 321.5 353.6 327.9 348.7C334.4 343.8 330.9 347.6 335.4 343.7C339.9 339.8 339.4 339.3 341.4 337.1M306.7 369.5C310.2 366.0 311.6 366.2 317.2 359.0C322.8 351.9 317.8 353.4 323.6 348.0C329.3 342.5 327.5 346.4 334.4 342.7C341.3 339.1 341.0 338.9 344.3 337.1M306.9 370.1C310.3 367.3 311.2 367.6 317.0 361.7C322.8 355.8 318.4 358.3 324.4 352.4C330.3 346.5 329.2 349.2 334.8 343.9C340.5 338.5 339.1 338.8 341.3 336.3M306.7 370.8C309.1 368.0 307.6 369.6 313.9 362.5C320.2 355.3 318.8 356.7 325.6 349.4C332.4 342.1 328.0 344.6 334.2 340.6C340.5 336.6 340.9 338.4 344.3 337.4M306.4 369.8C310.0 366.3 310.5 366.7 317.3 359.3C324.1 351.9 321.1 353.7 326.9 347.6C332.7 341.4 330.0 344.8 334.8 340.8C339.6 336.9 339.1 337.5 341.3 335.8M306.9 369.2C310.4 365.5 310.7 364.9 317.3 357.9C323.9 351.0 321.0 354.3 326.6 348.5C332.2 342.7 328.3 345.6 334.2 340.5C340.0 335.3 340.9 335.5 344.3 333.0M306.5 369.2C309.4 366.6 309.6 368.1 315.4 361.4C321.2 354.7 316.7 355.0 323.9 349.1C331.2 343.3 331.3 349.2 337.2 343.9C343.0 338.5 340.0 336.6 341.4 333.0M305.4 369.7C309.2 366.9 309.1 367.9 316.7 361.4C324.3 355.0 322.6 356.5 328.3 350.4C334.0 344.4 329.3 348.3 333.9 343.3C338.5 338.3 339.3 338.1 342.0 335.5M305.3 370.3C308.9 366.6 309.3 366.6 316.1 359.3C322.8 351.9 318.7 354.3 325.5 348.3C332.4 342.2 330.6 345.5 336.6 341.2C342.6 336.9 341.2 337.3 343.6 335.3M306.2 370.8C308.9 367.8 308.3 368.2 314.5 361.8C320.7 355.4 318.0 358.0 324.8 351.6C331.7 345.3 328.9 348.0 335.1 342.8C341.3 337.6 340.7 338.3 343.4 336.1M306.3 369.3C310.0 365.4 310.3 364.8 317.3 357.7C324.3 350.6 322.3 352.9 327.4 347.9C332.6 342.9 328.0 347.7 332.7 342.7C337.4 337.8 338.6 336.3 341.6 333.0M305.5 369.8C308.4 367.3 307.6 369.9 314.1 362.5C320.6 355.1 318.1 354.2 325.0 347.6C332.0 341.0 329.6 346.7 334.9 342.7C340.2 338.7 338.9 337.9 340.9 335.5M305.6 370.5C308.8 367.2 308.5 367.1 315.2 360.5C322.0 353.9 318.6 356.4 325.9 350.7C333.2 345.1 331.6 348.1 337.3 343.4C342.9 338.7 341.0 338.9 342.9 336.6M305.5 370.9C309.7 368.0 310.4 368.6 318.0 362.2C325.5 355.8 322.2 358.5 328.2 351.7C334.3 344.9 330.8 347.0 336.1 341.9C341.5 336.7 341.6 338.1 344.3 336.2M356.7 308.9C355.3 311.5 354.3 313.0 352.5 316.8C350.6 320.6 353.0 315.8 351.2 320.3C349.4 324.8 351.5 324.9 347.0 330.3C342.5 335.8 344.1 331.9 337.7 336.5C331.4 341.2 331.2 341.7 328.0 344.3M356.7 308.9C355.2 311.7 354.1 313.6 352.2 317.4C350.4 321.2 353.2 316.0 351.2 320.3C349.2 324.6 350.7 324.1 346.1 330.3C341.5 336.4 343.1 334.1 337.5 338.8C331.8 343.4 331.9 342.4 329.2 344.3M356.7 308.9C355.3 311.3 354.5 312.3 352.6 316.1C350.8 319.9 353.6 315.2 351.2 320.3C348.8 325.4 349.5 325.2 345.4 331.4C341.3 337.5 344.5 334.6 338.9 338.9C333.3 343.1 332.0 342.4 328.6 344.1M356.7 308.9C354.9 310.9 353.2 311.0 351.4 314.8C349.5 318.6 353.4 315.0 351.2 320.3C349.0 325.6 349.8 324.2 344.9 330.7C340.1 337.2 342.0 334.4 336.6 339.8C331.3 345.2 331.4 344.6 328.8 347.0M356.7 308.9C356.0 310.8 356.4 310.9 354.5 314.7C352.7 318.5 353.8 315.1 351.2 320.3C348.6 325.5 350.6 323.8 346.6 330.2C342.6 336.6 345.6 334.1 339.1 339.4C332.7 344.7 331.2 344.0 327.2 346.2M356.7 308.9C356.1 311.2 356.7 311.9 354.8 315.7C353.0 319.5 354.6 315.4 351.2 320.3C347.8 325.2 349.2 324.3 344.8 330.6C340.3 336.8 343.4 334.3 337.9 339.1C332.3 343.9 331.4 343.0 328.1 345.0M356.7 308.9C357.5 311.9 358.0 310.1 359.0 317.8C360.1 325.5 360.4 321.3 359.8 332.0C359.3 342.6 362.1 338.7 357.3 349.8C352.6 361.0 352.6 356.8 345.6 365.3C338.7 373.8 339.6 372.0 336.5 375.3M356.7 308.9C357.2 310.9 357.2 308.5 358.3 314.9C359.4 321.3 360.3 317.6 359.9 328.1C359.6 338.6 362.2 334.2 357.4 346.4C352.5 358.7 352.0 355.4 345.3 364.9C338.6 374.4 339.9 371.6 337.2 374.9M356.7 308.9C357.2 310.6 357.3 307.1 358.1 314.1C358.9 321.0 359.3 318.9 359.1 329.7C358.9 340.5 361.8 334.7 357.4 346.5C353.0 358.4 352.5 355.6 345.8 365.3C339.1 375.0 340.1 372.2 337.2 375.6M304.2 479.0C305.2 467.1 305.8 466.8 307.3 443.4C308.9 419.9 307.2 429.1 308.8 408.7C310.5 388.2 309.3 395.8 312.2 382.1C315.2 368.4 315.9 372.4 317.7 367.5M304.2 479.0C304.8 468.9 304.5 472.0 306.1 448.6C307.7 425.1 306.3 431.3 309.1 408.6C311.9 385.9 311.6 393.4 314.5 380.5C317.3 367.5 316.6 373.3 317.6 369.7M304.2 479.0C305.2 468.9 305.1 472.8 307.3 448.8C309.5 424.9 308.6 429.3 310.7 407.2C312.7 385.1 310.4 396.4 313.4 382.5C316.4 368.7 317.7 371.3 319.8 365.7M304.2 479.0C304.9 468.5 304.2 469.2 306.3 447.5C308.4 425.8 307.9 436.2 310.5 413.9C313.2 391.7 311.6 395.8 314.2 380.6C316.8 365.4 317.0 372.4 318.4 368.4M304.2 479.0C305.4 467.0 306.1 465.8 307.7 443.0C309.4 420.2 307.0 430.1 309.1 410.6C311.1 391.0 311.1 398.7 314.0 384.4C316.9 370.1 316.5 373.3 317.8 367.7M298.1 453.1C298.9 446.6 297.8 448.7 300.4 433.6C303.0 418.6 302.3 424.3 305.9 408.0C309.6 391.7 307.8 396.0 311.3 384.8C314.9 373.6 314.8 377.9 316.6 374.5M298.1 453.1C298.8 446.1 298.0 447.9 300.1 432.2C302.2 416.6 300.3 421.3 304.5 406.1C308.6 390.9 307.6 397.7 312.4 386.6C317.3 375.6 316.8 377.5 319.0 372.9M298.1 453.1C299.1 446.5 298.3 449.8 301.1 433.4C303.9 417.1 302.7 420.1 306.5 404.1C310.3 388.0 309.4 395.3 312.5 385.3C315.5 375.3 314.6 377.8 315.6 374.0M307.0 437.6C308.2 430.5 309.5 429.1 310.7 416.3C311.9 403.5 307.4 413.5 310.6 399.3C313.8 385.1 317.0 382.2 320.2 373.7M307.0 437.6C308.0 430.6 307.9 429.8 310.0 416.7C312.2 403.5 310.9 411.9 313.5 398.2C316.1 384.5 316.4 383.1 317.8 375.6M307.0 437.6C307.1 431.9 306.2 434.9 307.2 420.5C308.3 406.1 307.4 410.3 310.1 394.3C312.9 378.4 313.8 379.9 315.6 372.7M298.1 453.1C300.4 452.1 301.7 453.7 305.0 450.0C308.3 446.3 307.3 446.1 308.0 442.0C308.7 437.9 307.3 439.1 307.0 437.6M342.4 372.5C339.3 383.3 339.0 382.4 332.9 405.0C326.8 427.5 331.8 418.0 324.1 440.3C316.5 462.6 316.7 458.9 310.1 471.8C303.4 484.7 306.2 476.6 304.2 479.0M339.6 371.3C337.6 380.6 338.8 377.2 333.7 399.4C328.6 421.6 332.9 413.9 324.3 437.9C315.7 461.8 314.5 457.6 307.8 471.3C301.1 485.0 305.4 476.4 304.2 479.0M337.0 368.9Q319.6 425.5 304.2 479.0M342.5 373.7Q325.3 425.5 304.2 479.0M326.7 372.5Q310.6 412.6 298.1 453.1M316.0 375.8Q312.7 425.5 304.2 479.0M333.6 373.3Q321.9 404.8 307.0 437.6" stroke="#000" stroke-opacity="0.65" stroke-width="0.45" fill="none"/><rect x="26.40" y="5.00" width="229.80" height="229.50" fill="none" stroke="#959595" stroke-width="1.1"/><path d="M26.40 234.50V236.20M26.40 3.30V5.00M49.38 234.50V236.20M49.38 3.30V5.00M72.36 234.50V236.20M72.36 3.30V5.00M95.34 234.50V236.20M95.34 3.30V5.00M118.32 234.50V236.20M118.32 3.30V5.00M141.30 234.50V236.20M141.30 3.30V5.00M164.28 234.50V236.20M164.28 3.30V5.00M187.26 234.50V236.20M187.26 3.30V5.00M210.24 234.50V236.20M210.24 3.30V5.00M233.22 234.50V236.20M233.22 3.30V5.00M256.20 234.50V236.20M256.20 3.30V5.00M24.70 234.50H26.40M256.20 234.50H257.90M24.70 211.55H26.40M256.20 211.55H257.90M24.70 188.60H26.40M256.20 188.60H257.90M24.70 165.65H26.40M256.20 165.65H257.90M24.70 142.70H26.40M256.20 142.70H257.90M24.70 119.75H26.40M256.20 119.75H257.90M24.70 96.80H26.40M256.20 96.80H257.90M24.70 73.85H26.40M256.20 73.85H257.90M24.70 50.90H26.40M256.20 50.90H257.90M24.70 27.95H26.40M256.20 27.95H257.90M24.70 5.00H26.40M256.20 5.00H257.90" stroke="#959595" stroke-width="1" fill="none"/><text x="26.40" y="245.80" text-anchor="middle">0</text><text x="49.38" y="245.80" text-anchor="middle">5</text><text x="72.36" y="245.80" text-anchor="middle">10</text><text x="95.34" y="245.80" text-anchor="middle">15</text><text x="118.32" y="245.80" text-anchor="middle">20</text><text x="141.30" y="245.80" text-anchor="middle">25</text><text x="164.28" y="245.80" text-anchor="middle">30</text><text x="187.26" y="245.80" text-anchor="middle">35</text><text x="210.24" y="245.80" text-anchor="middle">40</text><text x="233.22" y="245.80" text-anchor="middle">45</text><text x="256.20" y="245.80" text-anchor="middle">50</text><text x="22.60" y="237.70" text-anchor="end">0</text><text x="22.60" y="214.75" text-anchor="end">5</text><text x="22.60" y="191.80" text-anchor="end">10</text><text x="22.60" y="168.85" text-anchor="end">15</text><text x="22.60" y="145.90" text-anchor="end">20</text><text x="22.60" y="122.95" text-anchor="end">25</text><text x="22.60" y="100.00" text-anchor="end">30</text><text x="22.60" y="77.05" text-anchor="end">35</text><text x="22.60" y="54.10" text-anchor="end">40</text><text x="22.60" y="31.15" text-anchor="end">45</text><text x="22.60" y="8.20" text-anchor="end">50</text><rect x="26.70" y="278.20" width="229.30" height="229.10" fill="none" stroke="#959595" stroke-width="1.1"/><path d="M26.70 507.30V509.00M26.70 276.50V278.20M49.63 507.30V509.00M49.63 276.50V278.20M72.56 507.30V509.00M72.56 276.50V278.20M95.49 507.30V509.00M95.49 276.50V278.20M118.42 507.30V509.00M118.42 276.50V278.20M141.35 507.30V509.00M141.35 276.50V278.20M164.28 507.30V509.00M164.28 276.50V278.20M187.21 507.30V509.00M187.21 276.50V278.20M210.14 507.30V509.00M210.14 276.50V278.20M233.07 507.30V509.00M233.07 276.50V278.20M256.00 507.30V509.00M256.00 276.50V278.20M25.00 507.30H26.70M256.00 507.30H257.70M25.00 484.39H26.70M256.00 484.39H257.70M25.00 461.48H26.70M256.00 461.48H257.70M25.00 438.57H26.70M256.00 438.57H257.70M25.00 415.66H26.70M256.00 415.66H257.70M25.00 392.75H26.70M256.00 392.75H257.70M25.00 369.84H26.70M256.00 369.84H257.70M25.00 346.93H26.70M256.00 346.93H257.70M25.00 324.02H26.70M256.00 324.02H257.70M25.00 301.11H26.70M256.00 301.11H257.70M25.00 278.20H26.70M256.00 278.20H257.70" stroke="#959595" stroke-width="1" fill="none"/><text x="26.70" y="518.60" text-anchor="middle">0</text><text x="49.63" y="518.60" text-anchor="middle">5</text><text x="72.56" y="518.60" text-anchor="middle">10</text><text x="95.49" y="518.60" text-anchor="middle">15</text><text x="118.42" y="518.60" text-anchor="middle">20</text><text x="141.35" y="518.60" text-anchor="middle">25</text><text x="164.28" y="518.60" text-anchor="middle">30</text><text x="187.21" y="518.60" text-anchor="middle">35</text><text x="210.14" y="518.60" text-anchor="middle">40</text><text x="233.07" y="518.60" text-anchor="middle">45</text><text x="256.00" y="518.60" text-anchor="middle">50</text><text x="22.90" y="510.50" text-anchor="end">0</text><text x="22.90" y="487.59" text-anchor="end">5</text><text x="22.90" y="464.68" text-anchor="end">10</text><text x="22.90" y="441.77" text-anchor="end">15</text><text x="22.90" y="418.86" text-anchor="end">20</text><text x="22.90" y="395.95" text-anchor="end">25</text><text x="22.90" y="373.04" text-anchor="end">30</text><text x="22.90" y="350.13" text-anchor="end">35</text><text x="22.90" y="327.22" text-anchor="end">40</text><text x="22.90" y="304.31" text-anchor="end">45</text><text x="22.90" y="281.40" text-anchor="end">50</text><rect x="289.70" y="3.70" width="83.30" height="233.80" fill="none" stroke="#959595" stroke-width="1.1"/><path d="M289.70 237.50V239.20M289.70 2.00V3.70M306.36 237.50V239.20M306.36 2.00V3.70M323.02 237.50V239.20M323.02 2.00V3.70M339.68 237.50V239.20M339.68 2.00V3.70M356.34 237.50V239.20M356.34 2.00V3.70M373.00 237.50V239.20M373.00 2.00V3.70M288.00 237.50H289.70M373.00 237.50H374.70M288.00 220.80H289.70M373.00 220.80H374.70M288.00 204.10H289.70M373.00 204.10H374.70M288.00 187.40H289.70M373.00 187.40H374.70M288.00 170.70H289.70M373.00 170.70H374.70M288.00 154.00H289.70M373.00 154.00H374.70M288.00 137.30H289.70M373.00 137.30H374.70M288.00 120.60H289.70M373.00 120.60H374.70M288.00 103.90H289.70M373.00 103.90H374.70M288.00 87.20H289.70M373.00 87.20H374.70M288.00 70.50H289.70M373.00 70.50H374.70M288.00 53.80H289.70M373.00 53.80H374.70M288.00 37.10H289.70M373.00 37.10H374.70M288.00 20.40H289.70M373.00 20.40H374.70M288.00 3.70H289.70M373.00 3.70H374.70" stroke="#959595" stroke-width="1" fill="none"/><text x="289.70" y="246.20" text-anchor="middle" font-size="5.6">0</text><text x="306.36" y="246.20" text-anchor="middle" font-size="5.6">10</text><text x="323.02" y="246.20" text-anchor="middle" font-size="5.6">20</text><text x="339.68" y="246.20" text-anchor="middle" font-size="5.6">30</text><text x="356.34" y="246.20" text-anchor="middle" font-size="5.6">40</text><text x="373.00" y="246.20" text-anchor="middle" font-size="5.6">50</text><text x="285.60" y="239.50" text-anchor="end" font-size="5.6">580</text><text x="285.60" y="222.80" text-anchor="end" font-size="5.6">590</text><text x="285.60" y="206.10" text-anchor="end" font-size="5.6">600</text><text x="285.60" y="189.40" text-anchor="end" font-size="5.6">610</text><text x="285.60" y="172.70" text-anchor="end" font-size="5.6">620</text><text x="285.60" y="156.00" text-anchor="end" font-size="5.6">630</text><text x="285.60" y="139.30" text-anchor="end" font-size="5.6">640</text><text x="285.60" y="122.60" text-anchor="end" font-size="5.6">650</text><text x="285.60" y="105.90" text-anchor="end" font-size="5.6">660</text><text x="285.60" y="89.20" text-anchor="end" font-size="5.6">670</text><text x="285.60" y="72.50" text-anchor="end" font-size="5.6">680</text><text x="285.60" y="55.80" text-anchor="end" font-size="5.6">690</text><text x="285.60" y="39.10" text-anchor="end" font-size="5.6">700</text><text x="285.60" y="22.40" text-anchor="end" font-size="5.6">710</text><text x="285.60" y="5.70" text-anchor="end" font-size="5.6">720</text><rect x="289.70" y="277.10" width="83.60" height="233.10" fill="none" stroke="#959595" stroke-width="1.1"/><path d="M289.70 510.20V511.90M289.70 275.40V277.10M306.42 510.20V511.90M306.42 275.40V277.10M323.14 510.20V511.90M323.14 275.40V277.10M339.86 510.20V511.90M339.86 275.40V277.10M356.58 510.20V511.90M356.58 275.40V277.10M373.30 510.20V511.90M373.30 275.40V277.10M288.00 510.20H289.70M373.30 510.20H375.00M288.00 493.55H289.70M373.30 493.55H375.00M288.00 476.90H289.70M373.30 476.90H375.00M288.00 460.25H289.70M373.30 460.25H375.00M288.00 443.60H289.70M373.30 443.60H375.00M288.00 426.95H289.70M373.30 426.95H375.00M288.00 410.30H289.70M373.30 410.30H375.00M288.00 393.65H289.70M373.30 393.65H375.00M288.00 377.00H289.70M373.30 377.00H375.00M288.00 360.35H289.70M373.30 360.35H375.00M288.00 343.70H289.70M373.30 343.70H375.00M288.00 327.05H289.70M373.30 327.05H375.00M288.00 310.40H289.70M373.30 310.40H375.00M288.00 293.75H289.70M373.30 293.75H375.00M288.00 277.10H289.70M373.30 277.10H375.00" stroke="#959595" stroke-width="1" fill="none"/><text x="289.70" y="519.40" text-anchor="middle" font-size="5.6">0</text><text x="306.42" y="519.40" text-anchor="middle" font-size="5.6">10</text><text x="323.14" y="519.40" text-anchor="middle" font-size="5.6">20</text><text x="339.86" y="519.40" text-anchor="middle" font-size="5.6">30</text><text x="356.58" y="519.40" text-anchor="middle" font-size="5.6">40</text><text x="373.30" y="519.40" text-anchor="middle" font-size="5.6">50</text><text x="285.60" y="512.20" text-anchor="end" font-size="5.6">580</text><text x="285.60" y="495.55" text-anchor="end" font-size="5.6">590</text><text x="285.60" y="478.90" text-anchor="end" font-size="5.6">600</text><text x="285.60" y="462.25" text-anchor="end" font-size="5.6">610</text><text x="285.60" y="445.60" text-anchor="end" font-size="5.6">620</text><text x="285.60" y="428.95" text-anchor="end" font-size="5.6">630</text><text x="285.60" y="412.30" text-anchor="end" font-size="5.6">640</text><text x="285.60" y="395.65" text-anchor="end" font-size="5.6">650</text><text x="285.60" y="379.00" text-anchor="end" font-size="5.6">660</text><text x="285.60" y="362.35" text-anchor="end" font-size="5.6">670</text><text x="285.60" y="345.70" text-anchor="end" font-size="5.6">680</text><text x="285.60" y="329.05" text-anchor="end" font-size="5.6">690</text><text x="285.60" y="312.40" text-anchor="end" font-size="5.6">700</text><text x="285.60" y="295.75" text-anchor="end" font-size="5.6">710</text><text x="285.60" y="279.10" text-anchor="end" font-size="5.6">720</text><rect x="124.10" y="89.30" width="3.2" height="3.2" fill="#ff0000"/><rect x="121.80" y="93.90" width="3.2" height="3.2" fill="#ff0000"/><rect x="135.80" y="92.90" width="3.2" height="3.2" fill="#ff0000"/><rect x="147.00" y="96.40" width="3.2" height="3.2" fill="#ff0000"/><rect x="158.60" y="100.50" width="3.2" height="3.2" fill="#ff0000"/><rect x="170.10" y="104.40" width="3.2" height="3.2" fill="#ff0000"/><rect x="181.90" y="108.20" width="3.2" height="3.2" fill="#ff0000"/><rect x="193.00" y="111.70" width="3.2" height="3.2" fill="#ff0000"/><rect x="204.70" y="115.70" width="3.2" height="3.2" fill="#ff0000"/><rect x="216.10" y="119.60" width="3.2" height="3.2" fill="#ff0000"/><rect x="124.40" y="100.90" width="3.2" height="3.2" fill="#ff0000"/><rect x="119.60" y="112.00" width="3.2" height="3.2" fill="#ff0000"/><rect x="116.00" y="123.10" width="3.2" height="3.2" fill="#ff0000"/><rect x="84.00" y="136.70" width="3.2" height="3.2" fill="#ff0000"/><rect x="111.90" y="134.50" width="3.2" height="3.2" fill="#ff0000"/><rect x="108.30" y="146.00" width="3.2" height="3.2" fill="#ff0000"/><rect x="103.60" y="156.90" width="3.2" height="3.2" fill="#ff0000"/><rect x="220.60" y="135.70" width="3.2" height="3.2" fill="#ff0000"/><rect x="210.60" y="138.30" width="3.2" height="3.2" fill="#ff0000"/><rect x="204.70" y="142.60" width="3.2" height="3.2" fill="#ff0000"/><rect x="198.70" y="147.40" width="3.2" height="3.2" fill="#ff0000"/><rect x="192.80" y="151.90" width="3.2" height="3.2" fill="#ff0000"/><rect x="187.30" y="156.90" width="3.2" height="3.2" fill="#ff0000"/><rect x="180.90" y="165.30" width="3.2" height="3.2" fill="#ff0000"/><rect x="174.80" y="172.90" width="3.2" height="3.2" fill="#ff0000"/><rect x="168.30" y="181.30" width="3.2" height="3.2" fill="#ff0000"/><rect x="188.50" y="185.60" width="3.2" height="3.2" fill="#ff0000"/><rect x="173.50" y="193.20" width="3.2" height="3.2" fill="#ff0000"/><rect x="169.30" y="208.90" width="3.2" height="3.2" fill="#ff0000"/><circle cx="57.80" cy="50.20" r="1.75" fill="#00ee00"/><circle cx="81.60" cy="51.90" r="1.75" fill="#00ee00"/><circle cx="99.90" cy="65.20" r="1.75" fill="#00ee00"/><circle cx="73.70" cy="111.70" r="1.75" fill="#00ee00"/><circle cx="210.50" cy="61.60" r="1.75" fill="#00ee00"/><circle cx="144.20" cy="89.80" r="1.75" fill="#00ee00"/><circle cx="176.40" cy="101.30" r="1.75" fill="#00ee00"/><circle cx="123.00" cy="102.50" r="1.75" fill="#00ee00"/><circle cx="108.50" cy="134.00" r="1.75" fill="#00ee00"/><circle cx="113.80" cy="141.00" r="1.75" fill="#00ee00"/><circle cx="103.80" cy="161.70" r="1.75" fill="#00ee00"/><circle cx="94.90" cy="165.80" r="1.75" fill="#00ee00"/><circle cx="217.90" cy="137.30" r="1.75" fill="#00ee00"/><circle cx="195.80" cy="149.00" r="1.75" fill="#00ee00"/><circle cx="180.30" cy="169.50" r="1.75" fill="#00ee00"/><circle cx="176.80" cy="189.80" r="1.75" fill="#00ee00"/><rect x="124.18" y="362.35" width="3.2" height="3.2" fill="#ff0000"/><rect x="121.89" y="366.94" width="3.2" height="3.2" fill="#ff0000"/><rect x="135.86" y="365.94" width="3.2" height="3.2" fill="#ff0000"/><rect x="147.03" y="369.44" width="3.2" height="3.2" fill="#ff0000"/><rect x="158.61" y="373.53" width="3.2" height="3.2" fill="#ff0000"/><rect x="170.08" y="377.42" width="3.2" height="3.2" fill="#ff0000"/><rect x="181.86" y="381.22" width="3.2" height="3.2" fill="#ff0000"/><rect x="192.93" y="384.71" width="3.2" height="3.2" fill="#ff0000"/><rect x="204.61" y="388.70" width="3.2" height="3.2" fill="#ff0000"/><rect x="215.98" y="392.60" width="3.2" height="3.2" fill="#ff0000"/><rect x="124.48" y="373.93" width="3.2" height="3.2" fill="#ff0000"/><rect x="119.69" y="385.01" width="3.2" height="3.2" fill="#ff0000"/><rect x="116.10" y="396.09" width="3.2" height="3.2" fill="#ff0000"/><rect x="84.17" y="409.67" width="3.2" height="3.2" fill="#ff0000"/><rect x="112.01" y="407.47" width="3.2" height="3.2" fill="#ff0000"/><rect x="108.42" y="418.95" width="3.2" height="3.2" fill="#ff0000"/><rect x="103.73" y="429.83" width="3.2" height="3.2" fill="#ff0000"/><rect x="220.47" y="408.67" width="3.2" height="3.2" fill="#ff0000"/><rect x="210.50" y="411.26" width="3.2" height="3.2" fill="#ff0000"/><rect x="204.61" y="415.56" width="3.2" height="3.2" fill="#ff0000"/><rect x="198.62" y="420.35" width="3.2" height="3.2" fill="#ff0000"/><rect x="192.73" y="424.84" width="3.2" height="3.2" fill="#ff0000"/><rect x="187.25" y="429.83" width="3.2" height="3.2" fill="#ff0000"/><rect x="180.86" y="438.22" width="3.2" height="3.2" fill="#ff0000"/><rect x="174.77" y="445.80" width="3.2" height="3.2" fill="#ff0000"/><rect x="168.29" y="454.19" width="3.2" height="3.2" fill="#ff0000"/><rect x="188.44" y="458.48" width="3.2" height="3.2" fill="#ff0000"/><rect x="173.48" y="466.07" width="3.2" height="3.2" fill="#ff0000"/><rect x="169.29" y="481.74" width="3.2" height="3.2" fill="#ff0000"/><circle cx="58.03" cy="323.32" r="1.75" fill="#00ee00"/><circle cx="81.78" cy="325.02" r="1.75" fill="#00ee00"/><circle cx="100.04" cy="338.30" r="1.75" fill="#00ee00"/><circle cx="73.90" cy="384.71" r="1.75" fill="#00ee00"/><circle cx="210.40" cy="334.70" r="1.75" fill="#00ee00"/><circle cx="144.24" cy="362.85" r="1.75" fill="#00ee00"/><circle cx="176.37" cy="374.33" r="1.75" fill="#00ee00"/><circle cx="123.09" cy="375.53" r="1.75" fill="#00ee00"/><circle cx="108.62" cy="406.98" r="1.75" fill="#00ee00"/><circle cx="113.91" cy="413.96" r="1.75" fill="#00ee00"/><circle cx="103.93" cy="434.63" r="1.75" fill="#00ee00"/><circle cx="95.05" cy="438.72" r="1.75" fill="#00ee00"/><circle cx="217.78" cy="410.27" r="1.75" fill="#00ee00"/><circle cx="195.73" cy="421.95" r="1.75" fill="#00ee00"/><circle cx="180.27" cy="442.41" r="1.75" fill="#00ee00"/><circle cx="176.77" cy="462.68" r="1.75" fill="#00ee00"/><rect x="315.80" y="68.50" width="2.4" height="2.4" fill="#ff0000"/><rect x="320.00" y="67.40" width="2.4" height="2.4" fill="#ff0000"/><rect x="328.10" y="65.70" width="2.4" height="2.4" fill="#ff0000"/><rect x="332.10" y="63.20" width="2.4" height="2.4" fill="#ff0000"/><rect x="340.90" y="59.00" width="2.4" height="2.4" fill="#ff0000"/><rect x="329.80" y="67.80" width="2.4" height="2.4" fill="#ff0000"/><rect x="332.80" y="69.30" width="2.4" height="2.4" fill="#ff0000"/><rect x="335.80" y="67.30" width="2.4" height="2.4" fill="#ff0000"/><rect x="329.30" y="70.30" width="2.4" height="2.4" fill="#ff0000"/><rect x="338.60" y="75.20" width="2.4" height="2.4" fill="#ff0000"/><rect x="322.60" y="76.90" width="2.4" height="2.4" fill="#ff0000"/><rect x="320.50" y="80.50" width="2.4" height="2.4" fill="#ff0000"/><rect x="315.80" y="86.20" width="2.4" height="2.4" fill="#ff0000"/><rect x="309.90" y="90.40" width="2.4" height="2.4" fill="#ff0000"/><rect x="307.40" y="94.70" width="2.4" height="2.4" fill="#ff0000"/><rect x="296.90" y="179.00" width="2.4" height="2.4" fill="#ff0000"/><rect x="305.20" y="162.90" width="2.4" height="2.4" fill="#ff0000"/><rect x="302.50" y="205.20" width="2.4" height="2.4" fill="#ff0000"/><circle cx="356.10" cy="35.90" r="1.25" fill="#00ee00"/><circle cx="355.90" cy="39.10" r="1.25" fill="#00ee00"/><circle cx="351.00" cy="47.30" r="1.25" fill="#00ee00"/><circle cx="352.30" cy="53.60" r="1.25" fill="#00ee00"/><circle cx="333.90" cy="50.50" r="1.25" fill="#00ee00"/><circle cx="324.40" cy="62.10" r="1.25" fill="#00ee00"/><circle cx="314.10" cy="65.90" r="1.25" fill="#00ee00"/><circle cx="315.80" cy="68.60" r="1.25" fill="#00ee00"/><circle cx="338.30" cy="63.80" r="1.25" fill="#00ee00"/><circle cx="341.70" cy="64.20" r="1.25" fill="#00ee00"/><circle cx="324.80" cy="73.30" r="1.25" fill="#00ee00"/><circle cx="320.60" cy="84.50" r="1.25" fill="#00ee00"/><circle cx="313.20" cy="92.70" r="1.25" fill="#00ee00"/><circle cx="305.80" cy="97.80" r="1.25" fill="#00ee00"/><rect x="315.90" y="341.70" width="2.4" height="2.4" fill="#ff0000"/><rect x="320.11" y="340.61" width="2.4" height="2.4" fill="#ff0000"/><rect x="328.24" y="338.91" width="2.4" height="2.4" fill="#ff0000"/><rect x="332.26" y="336.42" width="2.4" height="2.4" fill="#ff0000"/><rect x="341.09" y="332.23" width="2.4" height="2.4" fill="#ff0000"/><rect x="329.95" y="341.00" width="2.4" height="2.4" fill="#ff0000"/><rect x="332.96" y="342.50" width="2.4" height="2.4" fill="#ff0000"/><rect x="335.97" y="340.51" width="2.4" height="2.4" fill="#ff0000"/><rect x="329.45" y="343.50" width="2.4" height="2.4" fill="#ff0000"/><rect x="338.78" y="348.38" width="2.4" height="2.4" fill="#ff0000"/><rect x="322.72" y="350.08" width="2.4" height="2.4" fill="#ff0000"/><rect x="320.62" y="353.67" width="2.4" height="2.4" fill="#ff0000"/><rect x="315.90" y="359.35" width="2.4" height="2.4" fill="#ff0000"/><rect x="309.98" y="363.54" width="2.4" height="2.4" fill="#ff0000"/><rect x="307.47" y="367.82" width="2.4" height="2.4" fill="#ff0000"/><rect x="296.93" y="451.87" width="2.4" height="2.4" fill="#ff0000"/><rect x="305.26" y="435.82" width="2.4" height="2.4" fill="#ff0000"/><rect x="302.55" y="477.99" width="2.4" height="2.4" fill="#ff0000"/><circle cx="356.34" cy="309.20" r="1.25" fill="#00ee00"/><circle cx="356.14" cy="312.39" r="1.25" fill="#00ee00"/><circle cx="351.22" cy="320.57" r="1.25" fill="#00ee00"/><circle cx="352.53" cy="326.85" r="1.25" fill="#00ee00"/><circle cx="334.06" cy="323.76" r="1.25" fill="#00ee00"/><circle cx="324.52" cy="335.33" r="1.25" fill="#00ee00"/><circle cx="314.19" cy="339.11" r="1.25" fill="#00ee00"/><circle cx="315.89" cy="341.81" r="1.25" fill="#00ee00"/><circle cx="338.48" cy="337.02" r="1.25" fill="#00ee00"/><circle cx="341.89" cy="337.42" r="1.25" fill="#00ee00"/><circle cx="324.93" cy="346.49" r="1.25" fill="#00ee00"/><circle cx="320.71" cy="357.66" r="1.25" fill="#00ee00"/><circle cx="313.28" cy="365.83" r="1.25" fill="#00ee00"/><circle cx="305.86" cy="370.92" r="1.25" fill="#00ee00"/><text x="141.5" y="259.3" text-anchor="middle">X [m]</text><text x="141.5" y="531.6" text-anchor="middle">X [m]</text><text x="331" y="254.8" text-anchor="middle" font-size="5.8">Y [m]</text><text x="331" y="528.0" text-anchor="middle" font-size="5.8">Y [m]</text><text transform="translate(7.9 119.6) rotate(-90)" text-anchor="middle" font-size="7.8">Y [m]</text><text transform="translate(7.9 392.7) rotate(-90)" text-anchor="middle" font-size="7.8">Y [m]</text><text transform="translate(272.6 121.2) rotate(-90)" text-anchor="middle" font-size="5.8">z [m]</text><text transform="translate(272.6 395.0) rotate(-90)" text-anchor="middle" font-size="5.8">z [m]</text><text x="211.8" y="267.8" text-anchor="middle" font-family='"Liberation Serif", serif' font-weight="bold" font-size="9.2" fill="#111" style="stroke:none">(a)</text><text x="208.8" y="545.6" text-anchor="middle" font-family='"Liberation Serif", serif' font-weight="bold" font-size="9.2" fill="#111" style="stroke:none">(b)</text><g fill="#111" stroke="#111"><path d="M224.4 15.6V21" stroke-width="0.7"/><path d="M224.4 13.2L222.9 16.2H225.9Z" stroke="none"/><path d="M223.2 20.8L224.4 22.4L225.6 20.8V27.6L224.4 26.2L223.2 27.6Z" stroke="none"/></g><text x="234" y="23.9" text-anchor="middle" font-weight="bold" font-size="6.3" fill="#1a2a3a">N</text><g fill="#111" stroke="#111"><path d="M347 12.5H354" stroke-width="0.9"/><path d="M356.2 12.5L353 10.9V14.1Z" stroke="none"/><path d="M340.6 10.8L342.6 12.5L340.6 14.2H346.4L348 12.5L346.4 10.8Z" stroke="none"/></g><text x="362.8" y="15.6" text-anchor="middle" font-size="7.4" fill="#1a2a3a">N</text></svg></body></html>
